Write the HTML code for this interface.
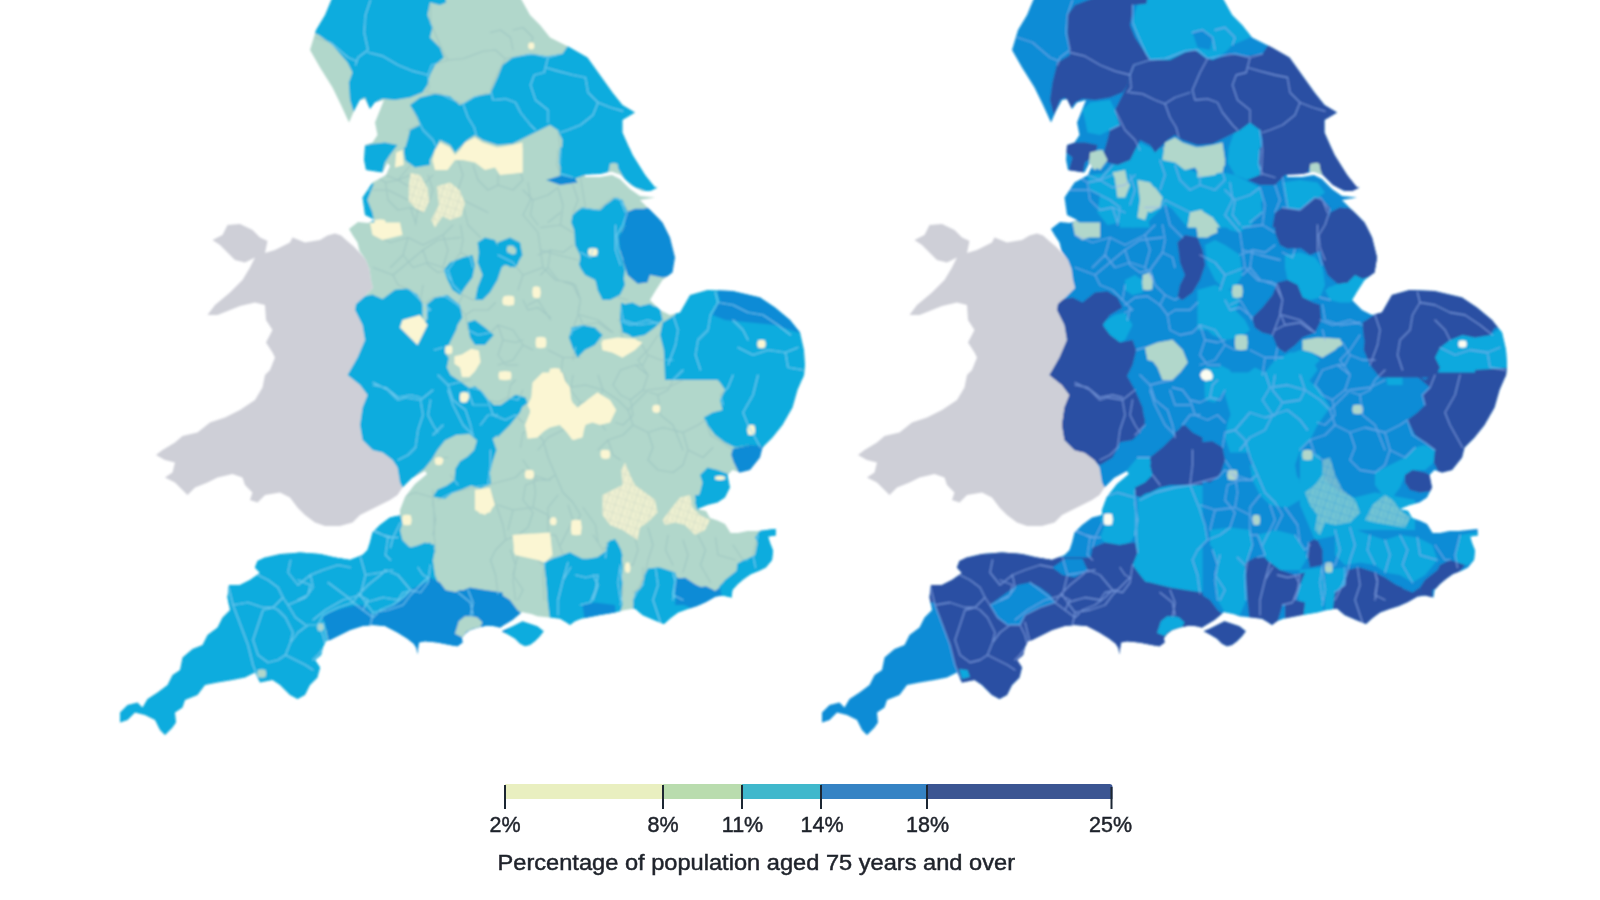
<!DOCTYPE html>
<html lang="en"><head><meta charset="utf-8"><title>Percentage of population aged 75 years and over</title>
<style>
html,body{margin:0;padding:0;background:#fff;}
body{width:1600px;height:900px;overflow:hidden;position:relative;font-family:"Liberation Sans",Arial,sans-serif;}
svg{position:absolute;left:0;top:0;display:block}
</style></head><body>
<svg width="1600" height="900" viewBox="0 0 1600 900">
<defs>
<filter id="soft" x="-2%" y="-2%" width="104%" height="104%"><feGaussianBlur stdDeviation="1.1"/></filter>
<filter id="soft2" x="-2%" y="-10%" width="104%" height="120%"><feGaussianBlur stdDeviation="0.6"/></filter>

<clipPath id="eng"><polygon points="332.5,-3 325,15 316,30 310,50 320,67.5 332.5,87.5 341,105 349,122.5 354,111 360,100 365,99 370,109 375,102.5 384,100 380,110 375,122.5 377.5,135 372.5,142.5 365,145 364,160 366,170 382.5,172.5 387.5,163 390,166 386,175 372.5,182.5 362.5,197.5 365,215 375,220 368,223 358,222 349,229 352.5,235 357.5,242.5 359.5,251 366,260 369.5,269 371,280 373,288 364,297 356,304 355,310 362.5,325 365,340 357.5,357.5 347.5,375 360,385 367.5,395 362.5,407.5 360,425 362.5,440 372.5,450 382.5,452.5 392.5,460 397.5,467.5 400,482.5 402.5,487.5 412,478 425,471 427,474 415,484 405,497 400,510 400,515 390,517.5 380,525 372.5,532.5 370,542.5 367.5,550 362.5,555 350,560 335,557.5 320,554 300,552.5 280,554 265,557.5 257.5,561 255,567.5 260,573 250,580 240,585 229,585 227.5,597.5 230,610 222.5,617.5 217.5,627.5 207.5,635 202.5,645 192.5,649 182.5,657.5 180,670 172.5,675 167.5,685 157.5,692.5 147.5,699 142.5,707.5 137.5,702.5 127.5,705 120,712.5 120,722.5 127.5,720 135,712.5 145,715 155,720 160,730 165,735 172.5,727.5 176,722.5 175,712.5 182.5,707.5 185,700 197.5,695 205,685 217.5,682.5 232.5,680 245,677.5 255,672.5 260,682.5 272.5,680 280,685 290,695 297.5,699 305,695 310,685 317.5,677.5 320,667.5 315,660 321,655 323,647 326,641 330,640 340,635 350,630 362.5,626 372.5,625 385,626 397.5,632.5 407.5,638.75 413.75,643.75 416.5,648 417.5,654 418.75,642.5 425,641.25 437.5,642.5 450,645 457.5,646.25 462.5,642.5 461.9,638 465,633.75 470,630 477.5,627.5 487.5,625.6 495,626.25 500,627.5 506.25,623.75 512.5,620 520,613.75 521.9,611.9 525,612.75 531.25,614 537.5,616.25 550,617.5 560,618.75 566.25,622.5 570,625 575,621.25 581.25,618.75 587.5,617.5 600,615 615,612.5 625,610 635,608.5 642.5,615 654,620 664,624 670.6,618 678,612.5 687.5,609 697,606 706,602 715.6,596.6 723,595.6 731.5,597.5 732.5,590 738,584 744,579 751,574 759,571 766,567.5 772,560 773,550.6 770,543 768,536.5 775.6,535.6 775.6,529 766,530 757,531 747.5,531 738,533 730.6,533 725,524 717.5,520.6 710,518 706,511 697.5,509 707.5,505 717.5,502.5 725,497.5 730,487.5 727.5,475 732.5,470 740,472.5 750,470 760,457.5 762.5,447.5 772.5,437.5 782.5,425 792.5,407.5 797.5,390 804,375 805,365 804,350 800,332.5 790,320 775,307.5 760,297.5 732.5,291 707.5,290 690,295 680,312.5 670,315 660,310 650,300 656,290 662.5,280 672.5,272.5 675,257.5 670,237.5 662.5,222.5 650,210 640,200 655,197.5 640,196 630,189 620,179 612,175 600,177 585,177 585,174.5 600,174 612,171.5 621,175 631,185 642,191 650,191 657.5,187.5 655,187.5 645,175 632.5,155 622.5,132.5 622.5,120 635,112.5 622.5,105 612.5,92.5 600,75 587.5,57.5 570,47.5 550,37.5 540,25 530,15 520,-3"/><polygon points="501.9,631.25 507.5,628.75 515,625 522.5,621.25 530,623.75 537.5,626.25 543.75,631.25 540,636.25 535,641.25 530,645 525,646.25 520,643.75 515,638.75 508.75,635"/></clipPath>
<g id="wales"><polygon points="341,235.5 335,233.5 327.5,235.5 320,240 305,242.5 292.5,237.5 290,242.5 275,250 265,253 267.5,241 260,237.5 252.5,230 240,224 227.5,225 222.5,235 212.5,240 220,245 227.5,252.5 235,260 245,262.5 255,257.5 250,267.5 242.5,280 230,292.5 215,305 207.5,315 217.5,315 230,310 240,306 255,302.5 265,305 266,320 272.5,330 266,342.5 272.5,352.5 275,357.5 270,370 265,375 262.5,387.5 255,400 240,410 225,417.5 210,422.5 197.5,432.5 182.5,436 175,442.5 162.5,450 156,455 165,460 175,462.5 172.5,472.5 165,477.5 175,482.5 182.5,490 187.5,495 195,487.5 207.5,482.5 217.5,477.5 232.5,474 242.5,477.5 245,485 252.5,492.5 250,500 257.5,502.5 265,495 280,492.5 290,497.5 297.5,507.5 305,515 315,522.5 325,526 340,526 352.5,522.5 360,515 375,507.5 390,500 397.5,495 402.5,487.5 400,482.5 397.5,467.5 392.5,460 382.5,452.5 372.5,450 362.5,440 360,425 362.5,407.5 367.5,395 360,385 347.5,375 357.5,357.5 365,340 362.5,325 355,310 356,304 364,297 373,288 371,280 369.5,269 366,260 359.5,252.5 353.75,246.5 347.5,241.25" fill="#cecfd7"/></g>
<pattern id="mot" width="9" height="8" patternUnits="userSpaceOnUse" patternTransform="rotate(18)"><path d="M0 2H9M3 0V8M7 4L9 8" stroke="#a5bdb8" stroke-opacity="0.35" stroke-width="1.2" fill="none"/></pattern>
<pattern id="motr" width="9" height="8" patternUnits="userSpaceOnUse" patternTransform="rotate(18)"><rect width="9" height="8" fill="#b1d7cb" fill-opacity="0.62"/><path d="M0 2H9M3 0V8M7 4L9 8" stroke="#3aa0dd" stroke-opacity="0.55" stroke-width="1" fill="none"/></pattern>
<clipPath id="lb"><polygon points="332.5,-5 445,-5 446.2,2.5 440,5 430,2.5 427.5,15 432.5,27.5 430,37.5 440,47.5 443.8,57.5 435,65 430,75 427.5,85 422.5,92.5 410,97.5 395,100 382.5,98.8 375,102.5 370,110 365,97.5 360,100 353.8,112.5 350,100 348.8,82.5 352.5,72.5 347.5,62.5 332.5,45 318.8,35 307.5,30 307.5,15" fill="#000"/>
<polygon points="410,105 420,97.5 435,93.8 450,96.2 460,105 465,102.5 475,96.2 490,93.8 497.5,77.5 502.5,65 512.5,57.5 530,53.8 547.5,56.2 562.5,53.8 570,42.5 600,62.5 650,105 650,120 630,130 662.5,195 642.5,190 630,180 622.5,172.5 617.5,165 612.5,165 607.5,172.5 585,175 575,178.8 560,176.2 561.2,160 562.5,140 557.5,130 550,125 540,130 525,137.5 512.5,143.8 497.5,145 482.5,140 475,135 467.5,140 460,147.5 455,152.5 450,145 440,140 435,150 430,160 417.5,165 407.5,162.5 403.8,152.5 407.5,140 410,130 420,125 417.5,117.5" fill="#000"/>
<polygon points="357.5,147.5 372.5,143.8 385,142.5 397.5,145 390,155 385,162.5 382.5,172.5 366.2,175 357.5,170" fill="#000"/>
<polygon points="368.8,182.5 356.2,200 361.2,217.5 375,225 372.5,212.5 367.5,200 373.8,183.8" fill="#000"/>
<polygon points="575,212.5 582.5,207.5 600,210 615,197.5 622.5,200 627.5,212.5 632.5,225 572.5,225" fill="#000"/>
<polygon points="560,147.5 640,147.5 670,190 647.5,191.2 635,187.5 625,180 617.5,167.5 612.5,163.8 607.5,170 602.5,175 585,175 575,177.5 562.5,172.5 558.8,162.5" fill="#000"/>
<polygon points="572.5,215 580,208.8 590,215 597.5,213.8 605,205 617.5,197.5 625,207.5 625,225 617.5,237.5 620,250 610,255 600,250 587.5,248.8 580,245 575,232.5 571.2,222.5" fill="#000"/>
<polygon points="580,260 592.5,257.5 605,255 615,260 622.5,270 625,285 620,295 610,300 602.5,300 597.5,290 595,277.5 585,272.5 578.8,265" fill="#000"/>
<polygon points="497.5,242.5 510,237.5 520,242.5 522.5,255 515,267.5 505,265 497.5,270" fill="#000"/>
<polygon points="621.2,305 632.5,302.5 640,306.2 650,303.8 660,310 662.5,320 652.5,327.5 642.5,335 632.5,336.2 622.5,332.5 620,320" fill="#000"/>
<polygon points="571.2,330 582.5,325 595,328.8 602.5,335 592.5,345 582.5,350 577.5,357.5 572.5,347.5 568.8,337.5" fill="#000"/>
<polygon points="662.5,322.5 675,315 675,300 690,285 812.5,285 812.5,380 665,380 663.8,350 660,335" fill="#000"/>
<polygon points="403.8,147.5 430,147.5 430,165 415,167.5 405,160" fill="#000"/>
<polygon points="318.8,309.9 360.1,297.2 372.4,294.4 382.6,299.1 394.9,289.7 407.5,288.4 417.4,294.4 422.5,303.8 426.2,305.1 435.1,297.6 447.4,294.9 460,305.1 462.4,317.4 457.6,324.9 456.2,330 450.6,341.2 445,352.5 448.8,358.1 446.9,367.5 450.6,375 456.2,378.8 461.9,382.5 469.4,388.1 475,386.2 482.5,391.9 488.1,399.4 493.8,405 501.2,405 508.8,399.4 516.2,394.7 525.6,397.5 527.5,403.1 520,408.8 512.5,416.2 505,423.8 501.2,431.2 495.6,436.9 492.8,438.8 496.6,450 492.8,461.2 490,472.5 490.9,483.8 480.6,488.4 471.2,485.6 461.9,489.4 452.5,493.1 445,498.8 433.8,496.9 433.8,495 437.5,489.4 446.9,485.6 454.4,480 455.3,468.8 460,461.2 467.5,456.6 474.1,450 476.9,440.6 469.4,434.1 456.2,435 445,440.6 437.5,450 431.9,459.4 424.4,468.8 415,476.2 405.6,487.5 396.2,498.8 321.2,498.8" fill="#000"/>
<polygon points="443.8,270 450,262.5 462.5,257.5 472.5,255 475,265 472.5,277.5 465,287.5 460,295 452.5,290 447.5,280" fill="#000"/>
<polygon points="477.5,242.5 485,237.5 495,240 500,250 502.5,265 497.5,280 490,292.5 482.5,300 475,300 477.5,287.5 482.5,275 477.5,262.5 478.8,252.5" fill="#000"/>
<polygon points="502.5,245 510,240 520,242.5 521.2,252.5 517.5,265 510,267.5 505,257.5" fill="#000"/>
<polygon points="467.5,322.5 475,320 485,327.5 493.8,335 485,345 475,345 470,337.5" fill="#000"/>
<polygon points="573.8,222.5 620,222.5 622.5,240 620,252.5 625,270 622.5,290 615,297.5 605,300 600,292.5 595,280 585,275 580,267.5 580,255 575,245" fill="#000"/>
<polygon points="621.2,302.5 632.5,307.5 647.5,305 660,307.5 662.5,320 655,327.5 645,335 632.5,337.5 622.5,330 620,317.5" fill="#000"/>
<polygon points="571.2,327.5 582.5,325 595,327.5 602.5,335 595,345 585,350 577.5,357.5 572.5,347.5" fill="#000"/>
<polygon points="710,372.5 825,372.5 825,450 762.5,447.5 750,445 735,447.5 725,442.5 715,435 707.5,425 703.8,417.5 712.5,412.5 722.5,410 720,400 725,390 720,382.5" fill="#000"/>
<polygon points="700,475 707.5,467.5 717.5,470 727.5,473.8 740,487.5 725,500 717.5,503.8 707.5,506.2 697.5,510 695,502.5 700,492.5 702.5,482.5" fill="#000"/>
<polygon points="497.5,407.5 515,395 525,400 520,412.5 510,425 497.5,437.5" fill="#000"/>
<polygon points="760,532.5 780,525 790,550 767.5,565 755,572.5 740,580 732.5,587.5 732.5,600 722.5,600 720,587.5 725,580 737.5,570 745,560 755,555 757.5,542.5" fill="#000"/>
<polygon points="545,562.5 557.5,557.5 570,552.5 582.5,558.8 595,558.8 607.5,550 610,540 617.5,542.5 622.5,555 620,570 622.5,582.5 620,602.5 550,602.5 546.2,582.5" fill="#000"/>
<polygon points="635,602.5 640,590 647.5,570 660,567.5 675,572.5 677.5,582.5 675,602.5" fill="#000"/>
<polygon points="400,515 390,517.5 375,515 350,537.5 250,537.5 200,605 405,605 410,590 425,582.5 427.5,572.5 432.5,562.5 435,550 430,542.5 420,545 410,547.5 402.5,540 400,530 402.5,522.5" fill="#000"/>
<polygon points="297.5,545 365,545 367.5,542.5 372.5,530 385,517.5 395,515 402.5,522.5 400,530 395,537.5 400,545 412.5,547.5 425,542.5 435,545 432.5,555 425,565 430,577.5 440,585 425,600 375,625 325,625 330,650 315,680 297.5,680" fill="#000"/>
<polygon points="543.8,562.5 555,557.5 570,552.5 582.5,560 595,557.5 605,557.5 607.5,542.5 615,538.8 621.2,550 622.5,567.5 621.2,590 622.5,605 617.5,620 570,630 550,620 547.5,600 546.2,580" fill="#000"/>
<polygon points="635,592.5 645,585 647.5,570 657.5,567.5 675,572.5 677.5,580 675,595 685,600 695,610 670,630 647.5,622.5 632.5,612.5" fill="#000"/>
<polygon points="495,635 525,617.5 550,630 530,652.5 512.5,647.5" fill="#000"/>
<polygon points="695,495 702.5,495 702.5,507.5 696.2,507.5" fill="#000"/>
<polygon points="200,557.5 432.5,557.5 435,575 440,587.5 430,582.5 422.5,592.5 412.5,590 405,597.5 395,605 382.5,610 375,617.5 367.5,610 357.5,605 345,607.5 330,612.5 322.5,617.5 326.2,625 325,710 100,760 100,685" fill="#000"/>
<polygon points="633.1,599.4 636.9,591.9 644.4,588.1 644.4,575 648.1,568.4 657.5,567.5 668.8,571.2 674.4,573.1 677.2,578.8 674.4,586.2 676.2,597.5 683.8,605 691.2,607.8 691.2,616.2 665,631.2 635,620" fill="#000"/>
<polygon points="717.5,593.8 719.4,586.2 725,580.6 730.6,578.8 736.2,575 747.5,582.5 734.4,605 719.4,601.2" fill="#000"/>
<polygon points="736.2,575 737.2,563.8 743.8,560 751.2,558.1 756.9,554.4 758.8,545 755,537.5 758.8,531.9 766.2,526.2 785,524.4 785,565.6 747.5,582.5" fill="#000"/>
<polygon points="546.2,180 560,175.8 575,178 577.5,182.5 560,185" fill="#000"/>
<polygon points="635,212.5 647.5,207.5 657.5,215 662.5,225 632.5,225" fill="#000"/>
<polygon points="625,212.5 635,208.8 650,208.8 670,220 680,237.5 682.5,257.5 677.5,275 662.5,277.5 650,275 647.5,282.5 637.5,283.8 627.5,275 622.5,260 620,250 618.8,237.5 625,225" fill="#000"/>
<polygon points="717.5,292.5 720,285 812.5,285 812.5,340 800,333 790,330 775,325 750,322.5 725,320 712.5,315 720,300" fill="#000"/>
<polygon points="732.5,448.8 750,445 762.5,446.2 775,450 765,475 740,475 733.8,462.5 731.2,455" fill="#000"/>
<polygon points="677.5,582.5 685,577.5 700,587.5 712.5,592.5 720,587.5 722.5,600 715,605 675,605" fill="#000"/>
<polygon points="405,605 410,590 425,582.5 435,582.5 445,590 457.5,592.5 470,587.5 485,590 502.5,592.5 502.5,605" fill="#000"/>
<polygon points="325,622.5 337.5,612.5 350,607.5 362.5,605 372.5,615 382.5,610 395,605 405,597.5 412.5,590 422.5,592.5 430,577.5 440,582.5 447.5,592.5 460,592.5 472.5,590 485,595 500,593.8 510,600 517.5,610 525,616.2 512.5,625 502.5,635 475,630 462.5,650 420,662.5 375,640 330,650" fill="#000"/>
<polygon points="582.5,605 595,602.5 615,605 616.2,620 585,622.5" fill="#000"/>
<polygon points="677.5,577.5 690,582.5 702.5,587.5 702.5,610 692.5,612.5 685,600 675,595" fill="#000"/>
<polygon points="326.2,625 322.5,617.5 330,612.5 345,607.5 357.5,605 367.5,610 375,617.5 382.5,610 395,605 405,597.5 412.5,590 422.5,592.5 430,582.5 440,587.5 450,595 460,590 472.5,591.2 485,595 502.5,593.8 502.5,635 475,660 350,660 330,645" fill="#000"/>
<polygon points="677.2,578.8 683.8,577.8 691.2,583.4 698.8,587.2 706.2,586.2 713.8,590 717.5,593.8 719.4,601.2 691.2,616.2 691.2,607.8 683.8,605 676.2,597.5 674.4,586.2" fill="#000"/></clipPath>
</defs>
<rect width="1600" height="900" fill="#fff"/>
<g filter="url(#soft)">
<use href="#wales"/>
<g clip-path="url(#eng)">
<rect x="100" y="-5" width="720" height="760" fill="#b1d7cb"/>
<path d="M370.5,0 L365.5,15 L364.2,32.5 L368,50 L358,57.5 L355.5,65 M368,52.5 L383,56.2 L398,65 L413,71.2 L428,75 L431.8,65 L448,60 M315.5,37.5 L330.5,42.5 L348,57.5 L356.8,61.2 M428,75 L429.2,87.5 L425.5,92.5 M430.5,5 L430.5,22.5 L436.8,37.5 L444.2,53.8 L448,60 M448,60 L463,58.8 L483,51.2 L495.5,50 L505.5,58.8 M505.5,58.8 L498,72.5 L490.5,90 L493,100 L505.5,98.8 L515.5,102.5 L520.5,112.5 L530.5,125 L535.5,130 M428,92.5 L440.5,93.8 L453,100 L463,103.8 L473,97.5 L488,92.5 M463,103.8 L468,117.5 L474.2,127.5 L476.8,137.5 M505.5,58.8 L518,56.2 L533,53.8 L548,57.5 L560.5,53.8 M548,57.5 L544.2,72.5 L534.2,75 L530.5,85 L535.5,100 L548,110 L548,122.5 M545.5,67.5 L558,71.2 L573,75 L585.5,77.5 L588,92.5 L598,102.5 L593,115 L580.5,125 L568,130 L560.5,132.5 M598,102.5 L610.5,107.5 L623,111.2 M413,110 L418,120 L423,130 L433,140 L438,150 M408,130 L418,125 M558,130 L560.5,150 L559.2,175 M385.5,175 L398,180 L410.5,175 M428,175 L433,190 L428,205 M458,160 L463,175 L458,190 M473,165 L478,180 L488,190 L498,185 L498,175 M498,185 L513,190 L523,180 L520.5,172.5 M523,190 L533,200 L548,195 L558,187.5 M533,200 L530.5,215 L538,225 M558,187.5 L563,205 L560.5,225 M573,185 L578,200 L573,212.5 M580.5,207.5 L598,210 L613,197.5 L620.5,200 L625.5,212.5 M463,200 L478,207.5 L488,212.5 M443,207.5 L458,207.5 L463,200 M408,200 L418,207.5 L415.5,225 M388,190 L398,195 L408,200 M368,190 L385.5,190 M490.5,32.5 L500.5,30 L510.5,37.5 L513,50 M513,30 L523,27.5 L533,37.5 L530.5,45 M460.5,225 L463,240 L460.5,252.5 L470.5,257.5 L473,267.5 M373,267.5 L393,275 L408,262.5 L423,250 L438,240 L460.5,237.5 M393,275 L398,285 L410.5,290 L420.5,300 M423,250 L428,265 L438,272.5 L448,270 L460.5,252.5 M448,270 L453,285 L463,295 L473,300 L476.8,297.5 M463,295 L458,305 L465.5,315 L473,310 L488,310 L495.5,302.5 M423,305 L433,297.5 L445.5,296.2 L458,305 M428,307.5 L425.5,320 M465.5,315 L468,330 L478,335 L490.5,332.5 L498,325 M434.2,350 L443,347.5 M438,375 L448,385 L458,382.5 L470.5,380 M448,385 L453,400 L465.5,410 L470.5,425 L473,437.5 M470.5,387.5 L480.5,390 L488,400 L498,402.5 L508,397.5 L518,400 L523,390 M488,400 L493,415 L505.5,420 L515.5,415 L523,422.5 M508,397.5 L510.5,385 L515.5,380 M498,325 L503,340 L515.5,342.5 L523,340 M503,340 L498,355 L505.5,365 L518,365 M523,300 L528,310 L538,307.5 L550.5,317.5 M538,255 L550.5,250 L563,252.5 L573,245 M550.5,250 L548,267.5 L558,280 L573,285 M540.5,275 L548,267.5 M563,372.5 L568,387.5 L560.5,400 L570.5,415 L563,430 L548,437.5 L538,450 M568,387.5 L585.5,385 L603,390 M570.5,415 L585.5,410 L598,420 L605.5,430 M618,320 L630.5,325 L648,320 L660.5,325 M620.5,330 L623,340 M640.5,342.5 L648,355 L643,365 L635.5,365 M648,355 L660.5,360 L673,360 M620.5,370 L613,385 L620.5,395 L630.5,400 L643,390 L648,375 L635.5,365 L620.5,370 M630.5,400 L633,415 L623,425 L615.5,422.5 M643,390 L658,395 L668,390 L673,380 L683,370 M658,395 L660.5,415 L673,425 L683,450 M575.5,347.5 L573,360 M593,248.8 L590.5,257.5 L580.5,252.5 M615.5,225 L615.5,250 L620.5,265 M373,385 L385.5,387.5 L398,397.5 L410.5,395 L420.5,397.5 M430.5,400 L428,415 L433,425 L438,432.5 M573,285 L580.5,300 L578,315 L570.5,335 M580.5,315 L598,320 L613,332.5 M558,150 L556.8,165 L560.5,173.8 L573,177.5 M580.5,177.5 L583,192.5 L585.5,207.5 M618,197.5 L628,210 L623,225 L616.8,235 L618,247.5 L623,260 M715.5,292.5 L718,302.5 L710.5,315 L708,330 L698,340 L695.5,355 L700.5,370 M718,302.5 L733,305 L748,312.5 L763,315 L778,325 L790.5,335 M733,320 L743,330 L748,340 M673,315 L678,330 L675.5,345 L668,365 M575.5,285 L580.5,300 L578,312.5 L583,325 L573,330 M583,325 L598,322.5 L608,330 L613,332.5 M540.5,227.5 L560.5,225 L573,232.5 M538,232.5 L540.5,250 L558,255 L578,260 M540.5,250 L543,267.5 L555.5,280 L570.5,282.5 L575.5,285 M528,182.5 L530.5,200 L523,215 L538,232.5 M498,255 L513,262.5 L523,275 L518,290 M523,275 L543,267.5 M548,222.5 L560.5,212.5 M528,305 L538,300 L550.5,320 M620.5,305 L623,320 L638,325 L658,322.5 M618,297.5 L628,300 M738,347.5 L753,355 L768,350 L785.5,352.5 L798,347.5 M785.5,352.5 L788,367.5 L803,370 M658,335 L648,350 L638,360 L648,375 M498,325 L513,330 L523,345 L513,360 L498,365 M523,345 L533,350 M548,350 L563,357.5 L580.5,357.5 M563,357.5 L560.5,375 M598,375 L603,390 L618,400 L628,410 M573,375 L570.5,390 L580.5,402.5 L573,415 L563,417.5 L548,412.5 L533,430 M580.5,402.5 L598,400 L603,390 M628,410 L638,400 L648,390 L668,387.5 L683,380 M628,410 L633,425 L623,435 L608,440 L598,450 M633,425 L648,432.5 L663,427.5 L683,432.5 L688,450 L683,465 L673,472.5 M683,432.5 L698,425 L705.5,420 M688,450 L703,457.5 L713,447.5 M648,432.5 L653,447.5 L648,460 L658,470 L673,472.5 M608,440 L613,455 L620.5,460 M548,457.5 L543,440 L533,430 L523,432.5 L520.5,447.5 M548,457.5 L555.5,475 L563,492.5 L573,502.5 M523,460 L533,475 L548,480 L555.5,475 M498,505 L513,510 L533,507.5 L548,515 L553,525 M533,507.5 L535.5,492.5 L533,475 M508,530 L513,510 M548,535 L555.5,535 L563,555 L555.5,557.5 M593,535 L603,550 L608,545 M573,530 L580.5,515 L573,502.5 M633,530 L638,550 L633,565 L623,565 M648,527.5 L653,545 L648,560 L645.5,572.5 M668,535 L665.5,550 L673,565 M683,540 L688,555 L683,572.5 M698,535 L705.5,550 L700.5,565 L710.5,582.5 M715.5,537.5 L718,555 L735.5,560 M733,545 L743,560 L748,560 M758,535 L753,555 L755.5,567.5 M758,375 L753,395 L743,412.5 L748,425 L760.5,447.5 M733,375 L728,387.5 L720.5,395 L723,405 M705.5,420 L710.5,435 L723,442.5 L733,450 M620.5,565 L618,582.5 L620.5,600 M593,575 L598,585 L593,600 M568,562.5 L563,580 L558,600 M518,555 L513,575 L523,590 L518,600 M535.5,557.5 L543,565 M673,572.5 L675.5,582.5 L673,600 M645.5,572.5 L638,590 L633,600 M433,497.5 L434.2,515 L434.2,535 L435.5,552.5 M438,500 L453,492.5 L473,487.5 L488,485 L515.5,477.5 M488,485 L498,510 L503,525 L505.5,540 L495.5,550 L490.5,560 L495.5,575 L498,593.8 M490.5,450 L490.5,465 L488,485 M450.5,475 L458,485 M400.5,497.5 L415.5,492.5 L433,497.5 M393,537.5 L390.5,547.5 M370.5,530 L383,535 L393,537.5 L400.5,522.5 M360.5,557.5 L365.5,575 L360.5,595 L365.5,602.5 L373,612.5 L370.5,625 M365.5,575 L380.5,572.5 L393,570 M365.5,602.5 L383,597.5 L398,600 L403,592.5 L415.5,590 L428,577.5 M373,612.5 L388,610 L403,605 L410.5,595 L415.5,590 M418,567.5 L423,575 L428,577.5 M298,580 L310.5,585 L308,595 L298,600 M313,620 L325.5,610 L343,600 L360.5,595 M323,622.5 L328,642.5 M458,592.5 L470.5,602.5 L473,615 M505.5,540 L518,535 L528,527.5 M510.5,550 L515.5,565 L513,580 L515.5,600 M545.5,560 L543,575 L544.2,600 M548,530 L550.5,545 L545.5,560 M570.5,567.5 L563,580 L558,600 L558,615 M575.5,575 L585.5,577.5 L598,575 M598,575 L595.5,590 L590.5,602.5 L580.5,605 M620.5,567.5 L623,590 L620.5,605 M643,567.5 L643,585 L633,592.5 M673,572.5 L675.5,580 L673,595 L683,600 M655.5,567.5 L658,585 L653,600 L660.5,622.5 M528,527.5 L533,512.5 L523,500 L525.5,485 L538,480 M558,495 L548,507.5 L548,530 M568,505 L573,520 L560.5,545 M598,542.5 L595.5,525 L583,507.5 M605.5,557.5 L606.8,542.5 M515.5,477.5 L523,470 L538,480 L550.5,480 M228,585 L233,605 L240.5,625 L248,645 L253,665 L258,677.5 M233,605 L248,602.5 L263,607.5 L273,607.5 L283,597.5 L278,587.5 L268,580 L258,575 M273,607.5 L263,610 L258,625 L253,640 L258,655 L268,662.5 L278,660 L285.5,655 L290.5,642.5 L293,632.5 L285.5,617.5 L278,610 L273,607.5 M285.5,655 L295.5,660 L305.5,665 L313,670 M290.5,642.5 L298,632.5 L308,625 L318,625 L323,635 L325.5,645 L318,655 L313,660 M283,597.5 L288,605 L295.5,617.5 L305.5,625 M310.5,575 L313,587.5 L305.5,597.5 L288,605 M318,625 L323,615 L338,607.5 L353,602.5 L363,610 L373,617.5 M353,602.5 L358,595 L368,585 L380.5,575 L385.5,570 M373,617.5 L380.5,610 L393,605 L403,597.5 L410.5,590 L420.5,592.5 L428,582.5 L430.5,565 M363,610 L368,600 L358,595 M468,590 L473,602.5 L470.5,616.2 M328,582.5 L338,590 L348,597.5 L353,602.5 M385.5,570 L398,575 L410.5,590 M290.5,560 L288,572.5 L298,585 L310.5,575 L323,570 L338,565 L350.5,567.5 M373,382.5 L388,390 L398,400 L405.5,397.5 L420.5,400 L433,390 M420.5,400 L423,415 L418,430 L415.5,447.5 M433,435 L443,425 M398,460 L408,455 L415.5,447.5 M435.5,457.5 L448,457.5 M433,490 L433,505 L435.5,520 L433,535 M373,530 L388,537.5 L398,537.5 M388,537.5 L385.5,555 L390.5,560 M448,390 L453,405 L463,425 L473,435 M468,390 L473,405 L488,405 M480.5,425 L488,415 L498,415 M373,175 L385.5,182.5 L398,180 L410.5,165 M385.5,182.5 L388,200 L398,210 L410.5,207.5 L423,212.5 M398,180 L410.5,187.5 L423,185 L433,175 M410.5,207.5 L415.5,222.5 M373,235 L390.5,242.5 L408,237.5 L423,245 L443,235 L453,225 M408,237.5 L403,255 L413,267.5 L428,262.5 L443,267.5 M390.5,267.5 L403,255 M443,235 L448,250 L443,267.5 L450.5,280 M463,205 L468,225 L480.5,237.5 M423,285 L420.5,300 L430.5,310 L423,312.5" fill="none" stroke="rgba(120,160,175,0.28)" stroke-width="1.1" stroke-linejoin="round" stroke-linecap="round"/>
<polygon points="332.5,-5 445,-5 446.2,2.5 440,5 430,2.5 427.5,15 432.5,27.5 430,37.5 440,47.5 443.8,57.5 435,65 430,75 427.5,85 422.5,92.5 410,97.5 395,100 382.5,98.8 375,102.5 370,110 365,97.5 360,100 353.8,112.5 350,100 348.8,82.5 352.5,72.5 347.5,62.5 332.5,45 318.8,35 307.5,30 307.5,15" fill="#0cacde"/>
<polygon points="410,105 420,97.5 435,93.8 450,96.2 460,105 465,102.5 475,96.2 490,93.8 497.5,77.5 502.5,65 512.5,57.5 530,53.8 547.5,56.2 562.5,53.8 570,42.5 600,62.5 650,105 650,120 630,130 662.5,195 642.5,190 630,180 622.5,172.5 617.5,165 612.5,165 607.5,172.5 585,175 575,178.8 560,176.2 561.2,160 562.5,140 557.5,130 550,125 540,130 525,137.5 512.5,143.8 497.5,145 482.5,140 475,135 467.5,140 460,147.5 455,152.5 450,145 440,140 435,150 430,160 417.5,165 407.5,162.5 403.8,152.5 407.5,140 410,130 420,125 417.5,117.5" fill="#0cacde"/>
<polygon points="357.5,147.5 372.5,143.8 385,142.5 397.5,145 390,155 385,162.5 382.5,172.5 366.2,175 357.5,170" fill="#0cacde"/>
<polygon points="368.8,182.5 356.2,200 361.2,217.5 375,225 372.5,212.5 367.5,200 373.8,183.8" fill="#0cacde"/>
<polygon points="575,212.5 582.5,207.5 600,210 615,197.5 622.5,200 627.5,212.5 632.5,225 572.5,225" fill="#0cacde"/>
<polygon points="560,147.5 640,147.5 670,190 647.5,191.2 635,187.5 625,180 617.5,167.5 612.5,163.8 607.5,170 602.5,175 585,175 575,177.5 562.5,172.5 558.8,162.5" fill="#0cacde"/>
<polygon points="572.5,215 580,208.8 590,215 597.5,213.8 605,205 617.5,197.5 625,207.5 625,225 617.5,237.5 620,250 610,255 600,250 587.5,248.8 580,245 575,232.5 571.2,222.5" fill="#0cacde"/>
<polygon points="580,260 592.5,257.5 605,255 615,260 622.5,270 625,285 620,295 610,300 602.5,300 597.5,290 595,277.5 585,272.5 578.8,265" fill="#0cacde"/>
<polygon points="497.5,242.5 510,237.5 520,242.5 522.5,255 515,267.5 505,265 497.5,270" fill="#0cacde"/>
<polygon points="621.2,305 632.5,302.5 640,306.2 650,303.8 660,310 662.5,320 652.5,327.5 642.5,335 632.5,336.2 622.5,332.5 620,320" fill="#0cacde"/>
<polygon points="571.2,330 582.5,325 595,328.8 602.5,335 592.5,345 582.5,350 577.5,357.5 572.5,347.5 568.8,337.5" fill="#0cacde"/>
<polygon points="662.5,322.5 675,315 675,300 690,285 812.5,285 812.5,380 665,380 663.8,350 660,335" fill="#0cacde"/>
<polygon points="403.8,147.5 430,147.5 430,165 415,167.5 405,160" fill="#0cacde"/>
<polygon points="318.8,309.9 360.1,297.2 372.4,294.4 382.6,299.1 394.9,289.7 407.5,288.4 417.4,294.4 422.5,303.8 426.2,305.1 435.1,297.6 447.4,294.9 460,305.1 462.4,317.4 457.6,324.9 456.2,330 450.6,341.2 445,352.5 448.8,358.1 446.9,367.5 450.6,375 456.2,378.8 461.9,382.5 469.4,388.1 475,386.2 482.5,391.9 488.1,399.4 493.8,405 501.2,405 508.8,399.4 516.2,394.7 525.6,397.5 527.5,403.1 520,408.8 512.5,416.2 505,423.8 501.2,431.2 495.6,436.9 492.8,438.8 496.6,450 492.8,461.2 490,472.5 490.9,483.8 480.6,488.4 471.2,485.6 461.9,489.4 452.5,493.1 445,498.8 433.8,496.9 433.8,495 437.5,489.4 446.9,485.6 454.4,480 455.3,468.8 460,461.2 467.5,456.6 474.1,450 476.9,440.6 469.4,434.1 456.2,435 445,440.6 437.5,450 431.9,459.4 424.4,468.8 415,476.2 405.6,487.5 396.2,498.8 321.2,498.8" fill="#0cacde"/>
<polygon points="443.8,270 450,262.5 462.5,257.5 472.5,255 475,265 472.5,277.5 465,287.5 460,295 452.5,290 447.5,280" fill="#0cacde"/>
<polygon points="477.5,242.5 485,237.5 495,240 500,250 502.5,265 497.5,280 490,292.5 482.5,300 475,300 477.5,287.5 482.5,275 477.5,262.5 478.8,252.5" fill="#0cacde"/>
<polygon points="502.5,245 510,240 520,242.5 521.2,252.5 517.5,265 510,267.5 505,257.5" fill="#0cacde"/>
<polygon points="467.5,322.5 475,320 485,327.5 493.8,335 485,345 475,345 470,337.5" fill="#0cacde"/>
<polygon points="573.8,222.5 620,222.5 622.5,240 620,252.5 625,270 622.5,290 615,297.5 605,300 600,292.5 595,280 585,275 580,267.5 580,255 575,245" fill="#0cacde"/>
<polygon points="621.2,302.5 632.5,307.5 647.5,305 660,307.5 662.5,320 655,327.5 645,335 632.5,337.5 622.5,330 620,317.5" fill="#0cacde"/>
<polygon points="571.2,327.5 582.5,325 595,327.5 602.5,335 595,345 585,350 577.5,357.5 572.5,347.5" fill="#0cacde"/>
<polygon points="710,372.5 825,372.5 825,450 762.5,447.5 750,445 735,447.5 725,442.5 715,435 707.5,425 703.8,417.5 712.5,412.5 722.5,410 720,400 725,390 720,382.5" fill="#0cacde"/>
<polygon points="700,475 707.5,467.5 717.5,470 727.5,473.8 740,487.5 725,500 717.5,503.8 707.5,506.2 697.5,510 695,502.5 700,492.5 702.5,482.5" fill="#0cacde"/>
<polygon points="497.5,407.5 515,395 525,400 520,412.5 510,425 497.5,437.5" fill="#0cacde"/>
<polygon points="760,532.5 780,525 790,550 767.5,565 755,572.5 740,580 732.5,587.5 732.5,600 722.5,600 720,587.5 725,580 737.5,570 745,560 755,555 757.5,542.5" fill="#0cacde"/>
<polygon points="545,562.5 557.5,557.5 570,552.5 582.5,558.8 595,558.8 607.5,550 610,540 617.5,542.5 622.5,555 620,570 622.5,582.5 620,602.5 550,602.5 546.2,582.5" fill="#0cacde"/>
<polygon points="635,602.5 640,590 647.5,570 660,567.5 675,572.5 677.5,582.5 675,602.5" fill="#0cacde"/>
<polygon points="400,515 390,517.5 375,515 350,537.5 250,537.5 200,605 405,605 410,590 425,582.5 427.5,572.5 432.5,562.5 435,550 430,542.5 420,545 410,547.5 402.5,540 400,530 402.5,522.5" fill="#0cacde"/>
<polygon points="297.5,545 365,545 367.5,542.5 372.5,530 385,517.5 395,515 402.5,522.5 400,530 395,537.5 400,545 412.5,547.5 425,542.5 435,545 432.5,555 425,565 430,577.5 440,585 425,600 375,625 325,625 330,650 315,680 297.5,680" fill="#0cacde"/>
<polygon points="543.8,562.5 555,557.5 570,552.5 582.5,560 595,557.5 605,557.5 607.5,542.5 615,538.8 621.2,550 622.5,567.5 621.2,590 622.5,605 617.5,620 570,630 550,620 547.5,600 546.2,580" fill="#0cacde"/>
<polygon points="635,592.5 645,585 647.5,570 657.5,567.5 675,572.5 677.5,580 675,595 685,600 695,610 670,630 647.5,622.5 632.5,612.5" fill="#0cacde"/>
<polygon points="495,635 525,617.5 550,630 530,652.5 512.5,647.5" fill="#0cacde"/>
<polygon points="695,495 702.5,495 702.5,507.5 696.2,507.5" fill="#0cacde"/>
<polygon points="200,557.5 432.5,557.5 435,575 440,587.5 430,582.5 422.5,592.5 412.5,590 405,597.5 395,605 382.5,610 375,617.5 367.5,610 357.5,605 345,607.5 330,612.5 322.5,617.5 326.2,625 325,710 100,760 100,685" fill="#0cacde"/>
<polygon points="633.1,599.4 636.9,591.9 644.4,588.1 644.4,575 648.1,568.4 657.5,567.5 668.8,571.2 674.4,573.1 677.2,578.8 674.4,586.2 676.2,597.5 683.8,605 691.2,607.8 691.2,616.2 665,631.2 635,620" fill="#0cacde"/>
<polygon points="717.5,593.8 719.4,586.2 725,580.6 730.6,578.8 736.2,575 747.5,582.5 734.4,605 719.4,601.2" fill="#0cacde"/>
<polygon points="736.2,575 737.2,563.8 743.8,560 751.2,558.1 756.9,554.4 758.8,545 755,537.5 758.8,531.9 766.2,526.2 785,524.4 785,565.6 747.5,582.5" fill="#0cacde"/>
<polygon points="546.2,180 560,175.8 575,178 577.5,182.5 560,185" fill="#0b8bd6"/>
<polygon points="635,212.5 647.5,207.5 657.5,215 662.5,225 632.5,225" fill="#0b8bd6"/>
<polygon points="625,212.5 635,208.8 650,208.8 670,220 680,237.5 682.5,257.5 677.5,275 662.5,277.5 650,275 647.5,282.5 637.5,283.8 627.5,275 622.5,260 620,250 618.8,237.5 625,225" fill="#0b8bd6"/>
<polygon points="717.5,292.5 720,285 812.5,285 812.5,340 800,333 790,330 775,325 750,322.5 725,320 712.5,315 720,300" fill="#0b8bd6"/>
<polygon points="732.5,448.8 750,445 762.5,446.2 775,450 765,475 740,475 733.8,462.5 731.2,455" fill="#0b8bd6"/>
<polygon points="677.5,582.5 685,577.5 700,587.5 712.5,592.5 720,587.5 722.5,600 715,605 675,605" fill="#0b8bd6"/>
<polygon points="405,605 410,590 425,582.5 435,582.5 445,590 457.5,592.5 470,587.5 485,590 502.5,592.5 502.5,605" fill="#0b8bd6"/>
<polygon points="325,622.5 337.5,612.5 350,607.5 362.5,605 372.5,615 382.5,610 395,605 405,597.5 412.5,590 422.5,592.5 430,577.5 440,582.5 447.5,592.5 460,592.5 472.5,590 485,595 500,593.8 510,600 517.5,610 525,616.2 512.5,625 502.5,635 475,630 462.5,650 420,662.5 375,640 330,650" fill="#0b8bd6"/>
<polygon points="582.5,605 595,602.5 615,605 616.2,620 585,622.5" fill="#0b8bd6"/>
<polygon points="677.5,577.5 690,582.5 702.5,587.5 702.5,610 692.5,612.5 685,600 675,595" fill="#0b8bd6"/>
<polygon points="326.2,625 322.5,617.5 330,612.5 345,607.5 357.5,605 367.5,610 375,617.5 382.5,610 395,605 405,597.5 412.5,590 422.5,592.5 430,582.5 440,587.5 450,595 460,590 472.5,591.2 485,595 502.5,593.8 502.5,635 475,660 350,660 330,645" fill="#0b8bd6"/>
<polygon points="677.2,578.8 683.8,577.8 691.2,583.4 698.8,587.2 706.2,586.2 713.8,590 717.5,593.8 719.4,601.2 691.2,616.2 691.2,607.8 683.8,605 676.2,597.5 674.4,586.2" fill="#0b8bd6"/>
<polygon points="610,163.8 613.8,163 617.5,163.8 618.2,168.8 617.5,173.8 613.8,174.5 610,173.8 609.2,168.8" fill="#b1d7cb"/>
<polygon points="507.5,246.2 510.6,245.5 513.8,246.2 514.5,249.4 513.8,252.5 510.6,253.2 507.5,252.5 506.8,249.4" fill="#b1d7cb"/>
<polygon points="422.5,301.9 426.6,303.8 427.4,318.8 422.5,324.4" fill="#b1d7cb"/>
<polygon points="510.5,248 513,247.2 515.5,248 516.2,250.9 515.5,253.8 513,254.5 510.5,253.8 509.8,250.9" fill="#b1d7cb"/>
<polygon points="458.8,621.2 465,616.2 472.5,616.2 477.5,617.5 482.5,622.5 480,626.9 472.5,628.8 466.2,631.9 462.5,637.5 455,633.8" fill="#b1d7cb"/>
<polygon points="258,670 261.8,669.2 265.5,670 266.2,673.5 265.5,677 261.8,677.8 258,677 257.2,673.5" fill="#b1d7cb"/>
<polygon points="318,624 320.5,623.2 323,624 323.8,627.2 323,630.5 320.5,631.2 318,630.5 317.2,627.2" fill="#b1d7cb"/>
<polygon points="528.8,43 531.2,42.2 533.8,43 534.5,45.9 533.8,48.8 531.2,49.5 528.8,48.8 528,45.9" fill="#fbf6d3"/>
<polygon points="435,150 440,142.5 450,147.5 455,155 460,150 465,142.5 475,137.5 482.5,142.5 497.5,147.5 512.5,145 522.5,142.5 522.5,172.5 500,175 495,167.5 485,170 475,162.5 462.5,160 455,160 447.5,170 435,170 432.5,160" fill="#fbf6d3"/>
<polygon points="396.2,152.5 402.5,150 403.8,165 395,167.5" fill="#fbf6d3"/>
<polygon points="375,220 380,219.2 385,220 385.8,223.1 385,226.2 380,227 375,226.2 374.2,223.1" fill="#fbf6d3"/>
<polygon points="588.8,248.8 592.9,248 597,248.8 597.8,252.1 597,255.5 592.9,256.2 588.8,255.5 588,252.1" fill="#fbf6d3"/>
<polygon points="602.5,340 617.5,337.5 635,338.8 640,343.8 630,350 622.5,357.5 612.5,352.5 602.5,350" fill="#fbf6d3"/>
<polygon points="533.8,287.5 536.9,286.8 540,287.5 540.8,292.5 540,297.5 536.9,298.2 533.8,297.5 533,292.5" fill="#fbf6d3"/>
<polygon points="503.8,296.2 508.8,295.5 513.8,296.2 514.5,300.6 513.8,305 508.8,305.8 503.8,305 503,300.6" fill="#fbf6d3"/>
<polygon points="536.2,337.5 540.6,336.8 545,337.5 545.8,342.5 545,347.5 540.6,348.2 536.2,347.5 535.5,342.5" fill="#fbf6d3"/>
<polygon points="550,368.8 555,368 560,368.8 560.8,371.9 560,375 555,375.8 550,375 549.2,371.9" fill="#fbf6d3"/>
<polygon points="497.5,147.5 522.5,147.5 522.5,172.5 510,173.8 497.5,167.5" fill="#fbf6d3"/>
<polygon points="758,340.5 761.5,339.8 765,340.5 765.8,344 765,347.5 761.5,348.2 758,347.5 757.2,344" fill="#fbf6d3"/>
<polygon points="460.9,392.8 464.7,392.2 468.4,392.8 469,396.6 468.4,400.3 464.7,400.9 460.9,400.3 460.4,396.6" fill="#fbf6d3"/>
<polygon points="445.6,345.9 448.8,345.4 451.9,345.9 452.5,349.7 451.9,353.4 448.8,354 445.6,353.4 445,349.7" fill="#fbf6d3"/>
<polygon points="601,450.4 604.4,449.8 607.8,450.4 608.3,453.8 607.8,457.1 604.4,457.7 601,457.1 600.4,453.8" fill="#fbf6d3"/>
<polygon points="526,471 529.4,470.4 532.8,471 533.3,474.4 532.8,477.8 529.4,478.3 526,477.8 525.4,474.4" fill="#fbf6d3"/>
<polygon points="436,457.9 439.4,457.3 442.8,457.9 443.3,460.3 442.8,462.8 439.4,463.3 436,462.8 435.4,460.3" fill="#fbf6d3"/>
<polygon points="454.4,356.2 461.9,354.4 471.2,348.8 478.8,350.6 480.6,361.9 475,371.2 469.4,376.9 461.9,376.9 460,367.5 454.4,363.8" fill="#fbf6d3"/>
<polygon points="370,222.5 400,222.5 402.5,235 382.5,240 372.5,235" fill="#fbf6d3"/>
<polygon points="402.5,320 420,315 427.5,325 417.5,345 407.5,335 400,327.5" fill="#fbf6d3"/>
<polygon points="503,297.5 508,296.8 513,297.5 513.8,301 513,304.5 508,305.2 503,304.5 502.2,301" fill="#fbf6d3"/>
<polygon points="533,287 536.2,286.2 539.5,287 540.2,292 539.5,297 536.2,297.8 533,297 532.2,292" fill="#fbf6d3"/>
<polygon points="536.8,338 541.2,337.2 545.8,338 546.5,342.5 545.8,347 541.2,347.8 536.8,347 536,342.5" fill="#fbf6d3"/>
<polygon points="499.2,371.8 505,371 510.8,371.8 511.5,375.6 510.8,379.5 505,380.2 499.2,379.5 498.5,375.6" fill="#fbf6d3"/>
<polygon points="653,405.5 656.2,404.8 659.5,405.5 660.2,408.8 659.5,412 656.2,412.8 653,412 652.2,408.8" fill="#fbf6d3"/>
<polygon points="535,385 545,375 555,370 562.5,377.5 570,387.5 571.2,400 567.5,410 575,415 585,412.5 587.5,400 597.5,392.5 607.5,400 615,410 610,422.5 600,425 592.5,422.5 585,425 582.5,437.5 572.5,440 565,430 557.5,422.5 547.5,427.5 537.5,437.5 527.5,438.8 526.2,425 532.5,415 527.5,405 532.5,395" fill="#fbf6d3"/>
<polygon points="601.2,342.5 615,340 632.5,338.8 642.5,342.5 635,350 622.5,357.5 612.5,352.5 602.5,350" fill="#fbf6d3"/>
<polygon points="532.5,382.5 542.5,372.5 562.5,372.5 567.5,390 572.5,402.5 577.5,407.5 587.5,400 597.5,392.5 610,400 616.2,410 610,422.5 600,423.8 587.5,420 582.5,432.5 575,440 567.5,432.5 560,425 550,427.5 537.5,435 527.5,437.5 525,425 530,412.5" fill="#fbf6d3"/>
<polygon points="512.5,535 550,532.5 552.5,555 545,562.5 537.5,560 515,555" fill="#fbf6d3"/>
<polygon points="571.8,520.5 576.2,519.8 580.8,520.5 581.5,527.5 580.8,534.5 576.2,535.2 571.8,534.5 571,527.5" fill="#fbf6d3"/>
<polygon points="550.5,518 553.1,517.2 555.8,518 556.5,521.2 555.8,524.5 553.1,525.2 550.5,524.5 549.8,521.2" fill="#fbf6d3"/>
<polygon points="525.5,470.5 529.4,469.8 533.2,470.5 534,474.4 533.2,478.2 529.4,479 525.5,478.2 524.8,474.4" fill="#fbf6d3"/>
<polygon points="601.8,450.5 605.6,449.8 609.5,450.5 610.2,454.4 609.5,458.2 605.6,459 601.8,458.2 601,454.4" fill="#fbf6d3"/>
<polygon points="654.2,405.5 656.9,404.8 659.5,405.5 660.2,408.8 659.5,412 656.9,412.8 654.2,412 653.5,408.8" fill="#fbf6d3"/>
<polygon points="748,425.5 751.2,424.8 754.5,425.5 755.2,430 754.5,434.5 751.2,435.2 748,434.5 747.2,430" fill="#fbf6d3"/>
<polygon points="715.5,476.5 720,475.8 724.5,476.5 725.2,478 724.5,479.5 720,480.2 715.5,479.5 714.8,478" fill="#fbf6d3"/>
<polygon points="625.5,563 627.5,562.2 629.5,563 630.2,567.5 629.5,572 627.5,572.8 625.5,572 624.8,567.5" fill="#fbf6d3"/>
<polygon points="460.5,393 463.8,392.2 467,393 467.8,397.5 467,402 463.8,402.8 460.5,402 459.8,397.5" fill="#fbf6d3"/>
<polygon points="435.5,458 438.8,457.2 442,458 442.8,461.2 442,464.5 438.8,465.2 435.5,464.5 434.8,461.2" fill="#fbf6d3"/>
<polygon points="403,515.5 406.9,514.8 410.8,515.5 411.5,520 410.8,524.5 406.9,525.2 403,524.5 402.2,520" fill="#fbf6d3"/>
<polygon points="475,490 490,487.5 495,505 485,515 475,510" fill="#fbf6d3"/>
<polygon points="475,492.5 487.5,490 493.8,505 490,512.5 480,513.8 475,507.5" fill="#fbf6d3"/>
<polygon points="513.8,535 530,533.8 550,535 551.2,550 540,560 525,555 513.8,552.5" fill="#fbf6d3"/>
<polygon points="571.8,520.5 576.2,519.8 580.8,520.5 581.5,527.5 580.8,534.5 576.2,535.2 571.8,534.5 571,527.5" fill="#fbf6d3"/>
<polygon points="551.8,518 553.8,517.2 555.8,518 556.5,521.2 555.8,524.5 553.8,525.2 551.8,524.5 551,521.2" fill="#fbf6d3"/>
<polygon points="526.8,471.8 530,471 533.2,471.8 534,475 533.2,478.2 530,479 526.8,478.2 526,475" fill="#fbf6d3"/>
<polygon points="435.5,458 438.8,457.2 442,458 442.8,460.6 442,463.2 438.8,464 435.5,463.2 434.8,460.6" fill="#fbf6d3"/>
<polygon points="403,515.5 406.9,514.8 410.8,515.5 411.5,520 410.8,524.5 406.9,525.2 403,524.5 402.2,520" fill="#fbf6d3"/>
<polygon points="626.5,564.2 628.1,563.5 629.8,564.2 630.5,568.1 629.8,572 628.1,572.8 626.5,572 625.8,568.1" fill="#fbf6d3"/>
<g opacity="0.85"><polygon points="410.6,173.1 420,175 427.5,188.1 429.4,201.2 423.8,212.5 416.2,208.8 408.8,201.2 408.8,186.2" fill="#fbf6d3"/>
<polygon points="436.9,186.2 450,182.5 459.4,190 465,203.1 461.2,216.2 450,220 442.5,216.2 435,227.5 431.2,220 438.8,205" fill="#fbf6d3"/>
<polygon points="602.5,495 612.5,490 622.5,485 621.2,470 625,462.5 630,475 635,485 645,492.5 655,500 657.5,512.5 647.5,522.5 640,527.5 637.5,540 630,535 622.5,530 610,525 602.5,515" fill="#fbf6d3"/>
<polygon points="670,510 680,497.5 690,495 692.5,507.5 700,515 710,520 705,530 695,535 685,525 675,522.5 665,525 662.5,520" fill="#fbf6d3"/></g>
<polygon points="410.6,173.1 420,175 427.5,188.1 429.4,201.2 423.8,212.5 416.2,208.8 408.8,201.2 408.8,186.2" fill="url(#mot)"/>
<polygon points="436.9,186.2 450,182.5 459.4,190 465,203.1 461.2,216.2 450,220 442.5,216.2 435,227.5 431.2,220 438.8,205" fill="url(#mot)"/>
<polygon points="602.5,495 612.5,490 622.5,485 621.2,470 625,462.5 630,475 635,485 645,492.5 655,500 657.5,512.5 647.5,522.5 640,527.5 637.5,540 630,535 622.5,530 610,525 602.5,515" fill="url(#mot)"/>
<polygon points="670,510 680,497.5 690,495 692.5,507.5 700,515 710,520 705,530 695,535 685,525 675,522.5 665,525 662.5,520" fill="url(#mot)"/>
<g clip-path="url(#lb)"><path d="M370.5,0 L365.5,15 L364.2,32.5 L368,50 L358,57.5 L355.5,65 M368,52.5 L383,56.2 L398,65 L413,71.2 L428,75 L431.8,65 L448,60 M315.5,37.5 L330.5,42.5 L348,57.5 L356.8,61.2 M428,75 L429.2,87.5 L425.5,92.5 M430.5,5 L430.5,22.5 L436.8,37.5 L444.2,53.8 L448,60 M448,60 L463,58.8 L483,51.2 L495.5,50 L505.5,58.8 M505.5,58.8 L498,72.5 L490.5,90 L493,100 L505.5,98.8 L515.5,102.5 L520.5,112.5 L530.5,125 L535.5,130 M428,92.5 L440.5,93.8 L453,100 L463,103.8 L473,97.5 L488,92.5 M463,103.8 L468,117.5 L474.2,127.5 L476.8,137.5 M505.5,58.8 L518,56.2 L533,53.8 L548,57.5 L560.5,53.8 M548,57.5 L544.2,72.5 L534.2,75 L530.5,85 L535.5,100 L548,110 L548,122.5 M545.5,67.5 L558,71.2 L573,75 L585.5,77.5 L588,92.5 L598,102.5 L593,115 L580.5,125 L568,130 L560.5,132.5 M598,102.5 L610.5,107.5 L623,111.2 M413,110 L418,120 L423,130 L433,140 L438,150 M408,130 L418,125 M558,130 L560.5,150 L559.2,175 M385.5,175 L398,180 L410.5,175 M428,175 L433,190 L428,205 M458,160 L463,175 L458,190 M473,165 L478,180 L488,190 L498,185 L498,175 M498,185 L513,190 L523,180 L520.5,172.5 M523,190 L533,200 L548,195 L558,187.5 M533,200 L530.5,215 L538,225 M558,187.5 L563,205 L560.5,225 M573,185 L578,200 L573,212.5 M580.5,207.5 L598,210 L613,197.5 L620.5,200 L625.5,212.5 M463,200 L478,207.5 L488,212.5 M443,207.5 L458,207.5 L463,200 M408,200 L418,207.5 L415.5,225 M388,190 L398,195 L408,200 M368,190 L385.5,190 M490.5,32.5 L500.5,30 L510.5,37.5 L513,50 M513,30 L523,27.5 L533,37.5 L530.5,45 M460.5,225 L463,240 L460.5,252.5 L470.5,257.5 L473,267.5 M373,267.5 L393,275 L408,262.5 L423,250 L438,240 L460.5,237.5 M393,275 L398,285 L410.5,290 L420.5,300 M423,250 L428,265 L438,272.5 L448,270 L460.5,252.5 M448,270 L453,285 L463,295 L473,300 L476.8,297.5 M463,295 L458,305 L465.5,315 L473,310 L488,310 L495.5,302.5 M423,305 L433,297.5 L445.5,296.2 L458,305 M428,307.5 L425.5,320 M465.5,315 L468,330 L478,335 L490.5,332.5 L498,325 M434.2,350 L443,347.5 M438,375 L448,385 L458,382.5 L470.5,380 M448,385 L453,400 L465.5,410 L470.5,425 L473,437.5 M470.5,387.5 L480.5,390 L488,400 L498,402.5 L508,397.5 L518,400 L523,390 M488,400 L493,415 L505.5,420 L515.5,415 L523,422.5 M508,397.5 L510.5,385 L515.5,380 M498,325 L503,340 L515.5,342.5 L523,340 M503,340 L498,355 L505.5,365 L518,365 M523,300 L528,310 L538,307.5 L550.5,317.5 M538,255 L550.5,250 L563,252.5 L573,245 M550.5,250 L548,267.5 L558,280 L573,285 M540.5,275 L548,267.5 M563,372.5 L568,387.5 L560.5,400 L570.5,415 L563,430 L548,437.5 L538,450 M568,387.5 L585.5,385 L603,390 M570.5,415 L585.5,410 L598,420 L605.5,430 M618,320 L630.5,325 L648,320 L660.5,325 M620.5,330 L623,340 M640.5,342.5 L648,355 L643,365 L635.5,365 M648,355 L660.5,360 L673,360 M620.5,370 L613,385 L620.5,395 L630.5,400 L643,390 L648,375 L635.5,365 L620.5,370 M630.5,400 L633,415 L623,425 L615.5,422.5 M643,390 L658,395 L668,390 L673,380 L683,370 M658,395 L660.5,415 L673,425 L683,450 M575.5,347.5 L573,360 M593,248.8 L590.5,257.5 L580.5,252.5 M615.5,225 L615.5,250 L620.5,265 M373,385 L385.5,387.5 L398,397.5 L410.5,395 L420.5,397.5 M430.5,400 L428,415 L433,425 L438,432.5 M573,285 L580.5,300 L578,315 L570.5,335 M580.5,315 L598,320 L613,332.5 M558,150 L556.8,165 L560.5,173.8 L573,177.5 M580.5,177.5 L583,192.5 L585.5,207.5 M618,197.5 L628,210 L623,225 L616.8,235 L618,247.5 L623,260 M715.5,292.5 L718,302.5 L710.5,315 L708,330 L698,340 L695.5,355 L700.5,370 M718,302.5 L733,305 L748,312.5 L763,315 L778,325 L790.5,335 M733,320 L743,330 L748,340 M673,315 L678,330 L675.5,345 L668,365 M575.5,285 L580.5,300 L578,312.5 L583,325 L573,330 M583,325 L598,322.5 L608,330 L613,332.5 M540.5,227.5 L560.5,225 L573,232.5 M538,232.5 L540.5,250 L558,255 L578,260 M540.5,250 L543,267.5 L555.5,280 L570.5,282.5 L575.5,285 M528,182.5 L530.5,200 L523,215 L538,232.5 M498,255 L513,262.5 L523,275 L518,290 M523,275 L543,267.5 M548,222.5 L560.5,212.5 M528,305 L538,300 L550.5,320 M620.5,305 L623,320 L638,325 L658,322.5 M618,297.5 L628,300 M738,347.5 L753,355 L768,350 L785.5,352.5 L798,347.5 M785.5,352.5 L788,367.5 L803,370 M658,335 L648,350 L638,360 L648,375 M498,325 L513,330 L523,345 L513,360 L498,365 M523,345 L533,350 M548,350 L563,357.5 L580.5,357.5 M563,357.5 L560.5,375 M598,375 L603,390 L618,400 L628,410 M573,375 L570.5,390 L580.5,402.5 L573,415 L563,417.5 L548,412.5 L533,430 M580.5,402.5 L598,400 L603,390 M628,410 L638,400 L648,390 L668,387.5 L683,380 M628,410 L633,425 L623,435 L608,440 L598,450 M633,425 L648,432.5 L663,427.5 L683,432.5 L688,450 L683,465 L673,472.5 M683,432.5 L698,425 L705.5,420 M688,450 L703,457.5 L713,447.5 M648,432.5 L653,447.5 L648,460 L658,470 L673,472.5 M608,440 L613,455 L620.5,460 M548,457.5 L543,440 L533,430 L523,432.5 L520.5,447.5 M548,457.5 L555.5,475 L563,492.5 L573,502.5 M523,460 L533,475 L548,480 L555.5,475 M498,505 L513,510 L533,507.5 L548,515 L553,525 M533,507.5 L535.5,492.5 L533,475 M508,530 L513,510 M548,535 L555.5,535 L563,555 L555.5,557.5 M593,535 L603,550 L608,545 M573,530 L580.5,515 L573,502.5 M633,530 L638,550 L633,565 L623,565 M648,527.5 L653,545 L648,560 L645.5,572.5 M668,535 L665.5,550 L673,565 M683,540 L688,555 L683,572.5 M698,535 L705.5,550 L700.5,565 L710.5,582.5 M715.5,537.5 L718,555 L735.5,560 M733,545 L743,560 L748,560 M758,535 L753,555 L755.5,567.5 M758,375 L753,395 L743,412.5 L748,425 L760.5,447.5 M733,375 L728,387.5 L720.5,395 L723,405 M705.5,420 L710.5,435 L723,442.5 L733,450 M620.5,565 L618,582.5 L620.5,600 M593,575 L598,585 L593,600 M568,562.5 L563,580 L558,600 M518,555 L513,575 L523,590 L518,600 M535.5,557.5 L543,565 M673,572.5 L675.5,582.5 L673,600 M645.5,572.5 L638,590 L633,600 M433,497.5 L434.2,515 L434.2,535 L435.5,552.5 M438,500 L453,492.5 L473,487.5 L488,485 L515.5,477.5 M488,485 L498,510 L503,525 L505.5,540 L495.5,550 L490.5,560 L495.5,575 L498,593.8 M490.5,450 L490.5,465 L488,485 M450.5,475 L458,485 M400.5,497.5 L415.5,492.5 L433,497.5 M393,537.5 L390.5,547.5 M370.5,530 L383,535 L393,537.5 L400.5,522.5 M360.5,557.5 L365.5,575 L360.5,595 L365.5,602.5 L373,612.5 L370.5,625 M365.5,575 L380.5,572.5 L393,570 M365.5,602.5 L383,597.5 L398,600 L403,592.5 L415.5,590 L428,577.5 M373,612.5 L388,610 L403,605 L410.5,595 L415.5,590 M418,567.5 L423,575 L428,577.5 M298,580 L310.5,585 L308,595 L298,600 M313,620 L325.5,610 L343,600 L360.5,595 M323,622.5 L328,642.5 M458,592.5 L470.5,602.5 L473,615 M505.5,540 L518,535 L528,527.5 M510.5,550 L515.5,565 L513,580 L515.5,600 M545.5,560 L543,575 L544.2,600 M548,530 L550.5,545 L545.5,560 M570.5,567.5 L563,580 L558,600 L558,615 M575.5,575 L585.5,577.5 L598,575 M598,575 L595.5,590 L590.5,602.5 L580.5,605 M620.5,567.5 L623,590 L620.5,605 M643,567.5 L643,585 L633,592.5 M673,572.5 L675.5,580 L673,595 L683,600 M655.5,567.5 L658,585 L653,600 L660.5,622.5 M528,527.5 L533,512.5 L523,500 L525.5,485 L538,480 M558,495 L548,507.5 L548,530 M568,505 L573,520 L560.5,545 M598,542.5 L595.5,525 L583,507.5 M605.5,557.5 L606.8,542.5 M515.5,477.5 L523,470 L538,480 L550.5,480 M228,585 L233,605 L240.5,625 L248,645 L253,665 L258,677.5 M233,605 L248,602.5 L263,607.5 L273,607.5 L283,597.5 L278,587.5 L268,580 L258,575 M273,607.5 L263,610 L258,625 L253,640 L258,655 L268,662.5 L278,660 L285.5,655 L290.5,642.5 L293,632.5 L285.5,617.5 L278,610 L273,607.5 M285.5,655 L295.5,660 L305.5,665 L313,670 M290.5,642.5 L298,632.5 L308,625 L318,625 L323,635 L325.5,645 L318,655 L313,660 M283,597.5 L288,605 L295.5,617.5 L305.5,625 M310.5,575 L313,587.5 L305.5,597.5 L288,605 M318,625 L323,615 L338,607.5 L353,602.5 L363,610 L373,617.5 M353,602.5 L358,595 L368,585 L380.5,575 L385.5,570 M373,617.5 L380.5,610 L393,605 L403,597.5 L410.5,590 L420.5,592.5 L428,582.5 L430.5,565 M363,610 L368,600 L358,595 M468,590 L473,602.5 L470.5,616.2 M328,582.5 L338,590 L348,597.5 L353,602.5 M385.5,570 L398,575 L410.5,590 M290.5,560 L288,572.5 L298,585 L310.5,575 L323,570 L338,565 L350.5,567.5 M373,382.5 L388,390 L398,400 L405.5,397.5 L420.5,400 L433,390 M420.5,400 L423,415 L418,430 L415.5,447.5 M433,435 L443,425 M398,460 L408,455 L415.5,447.5 M435.5,457.5 L448,457.5 M433,490 L433,505 L435.5,520 L433,535 M373,530 L388,537.5 L398,537.5 M388,537.5 L385.5,555 L390.5,560 M448,390 L453,405 L463,425 L473,435 M468,390 L473,405 L488,405 M480.5,425 L488,415 L498,415 M373,175 L385.5,182.5 L398,180 L410.5,165 M385.5,182.5 L388,200 L398,210 L410.5,207.5 L423,212.5 M398,180 L410.5,187.5 L423,185 L433,175 M410.5,207.5 L415.5,222.5 M373,235 L390.5,242.5 L408,237.5 L423,245 L443,235 L453,225 M408,237.5 L403,255 L413,267.5 L428,262.5 L443,267.5 M390.5,267.5 L403,255 M443,235 L448,250 L443,267.5 L450.5,280 M463,205 L468,225 L480.5,237.5 M423,285 L420.5,300 L430.5,310 L423,312.5" fill="none" stroke="rgba(150,215,245,0.7)" stroke-width="1.2" stroke-linejoin="round" stroke-linecap="round"/></g>
</g>
<g transform="translate(702,0)">
<use href="#wales"/>
<g clip-path="url(#eng)">
<rect x="100" y="-5" width="720" height="760" fill="#0c8cd6"/>
<g transform="translate(-702,0)">
<polygon points="1135,12.5 1140,-2.5 1230,-2.5 1250,15 1250,37.5 1232.5,45 1225,52.5 1212.5,60 1205,57.5 1195,50 1185,52.5 1170,60 1150,60 1145,52.5 1137.5,37.5 1132.5,25" fill="#0fa9de"/>
<polygon points="1082.5,110 1090,102.5 1110,100 1115,110 1120,125 1110,130 1100,135 1087.5,132.5 1085,120" fill="#0fa9de"/>
<polygon points="1235,130 1250,122.5 1260,130 1261.2,160 1260,175 1247.5,180 1235,175 1227.5,162.5 1228.8,147.5" fill="#0fa9de"/>
<polygon points="1087.5,175 1112.5,172.5 1130,175 1135,150 1140,142.5 1150,147.5 1160,150 1162.5,162.5 1175,165 1185,172.5 1200,175 1222.5,172.5 1235,175 1250,182.5 1260,187.5 1262.5,200 1257.5,212.5 1250,227.5 1187.5,227.5 1175,212.5 1165,200 1160,190 1150,195 1145,207.5 1150,227.5 1120,227.5 1117.5,212.5 1110,200 1100,195 1090,190" fill="#0fa9de"/>
<polygon points="1440,347.5 1450,340 1462.5,335 1475,337.5 1490,335 1500,328.8 1515,340 1515,377.5 1440,377.5 1435,357.5" fill="#0fa9de"/>
<polygon points="1197.5,177.5 1215,175 1230,182.5 1245,192.5 1260,197.5 1262.5,212.5 1250,222.5 1240,232.5 1230,230 1220,222.5 1210,212.5 1197.5,210" fill="#0fa9de"/>
<polygon points="1282.5,182.5 1300,180 1317.5,182.5 1325,192.5 1315,200 1305,205 1295,212.5 1287.5,207.5 1285,195" fill="#0fa9de"/>
<polygon points="1285,255 1300,252.5 1315,257.5 1322.5,267.5 1325,285 1320,297.5 1310,300 1302.5,297.5 1297.5,285 1287.5,280 1285,267.5" fill="#0fa9de"/>
<polygon points="1325,290 1335,285 1350,275 1370,275 1360,295 1350,302.5 1340,302.5 1330,300" fill="#0fa9de"/>
<polygon points="1197.5,290 1215,285 1230,290 1240,300 1235,312.5 1225,325 1215,330 1197.5,330" fill="#0fa9de"/>
<polygon points="1282.5,357.5 1300,350 1312.5,352.5 1320,360 1310,370 1295,377.5 1275,377.5" fill="#0fa9de"/>
<polygon points="1107.5,225 1097.5,212.5 1100,195 1095,180 1112.5,165 1125,157.5 1135,147.5 1160,147.5 1175,160 1190,170 1202.5,175 1202.5,210 1190,215 1175,210 1165,205 1155,215 1145,225 1132.5,227.5 1120,222.5" fill="#0fa9de"/>
<polygon points="1102.5,322.5 1115,315 1125,312.5 1132.5,325 1125,340 1115,345 1107.5,335" fill="#0fa9de"/>
<polygon points="1127.5,285 1137.5,277.5 1145,280 1142.5,290 1132.5,295" fill="#0fa9de"/>
<polygon points="1235,385 1245,375 1255,367.5 1265,372.5 1275,360 1290,352.5 1300,352.5 1312.5,360 1317.5,370 1310,380 1305,390 1315,400 1322.5,410 1317.5,422.5 1307.5,430 1300,437.5 1292.5,452.5 1230,452.5 1225,437.5 1227.5,422.5 1232.5,410 1230,397.5" fill="#0fa9de"/>
<polygon points="1105,325 1117.5,317.5 1127.5,322.5 1125,335 1117.5,342.5 1110,335" fill="#0fa9de"/>
<polygon points="1200,300 1212.5,295 1225,300 1235,310 1245,320 1250,330 1240,337.5 1225,340 1212.5,335 1202.5,325 1197.5,312.5" fill="#0fa9de"/>
<polygon points="1205,245 1215,240 1225,245 1240,255 1242.5,275 1235,287.5 1225,290 1215,280 1207.5,265" fill="#0fa9de"/>
<polygon points="1220,365 1230,370 1235,382.5 1225,390 1217.5,380" fill="#0fa9de"/>
<polygon points="1327.5,287.5 1337.5,285 1350,277.5 1360,278.8 1355,290 1345,300 1335,300" fill="#0fa9de"/>
<polygon points="1125,280 1135,275 1145,282.5 1142.5,292.5 1132.5,295 1125,290" fill="#0fa9de"/>
<polygon points="1385,370 1402.5,372.5 1402.5,385 1387.5,385" fill="#0fa9de"/>
<polygon points="1227.5,372.5 1300,372.5 1320,390 1330,407.5 1317.5,425 1310,440 1300,450 1295,465 1297.5,480 1305,490 1300,500 1287.5,507.5 1275,502.5 1265,492.5 1257.5,475 1250,457.5 1245,440 1235,430 1230,412.5 1225,395" fill="#0fa9de"/>
<polygon points="1375,472.5 1390,465 1405,457.5 1415,447.5 1425,445 1435,450 1433.8,462.5 1425,470 1412.5,470 1405,475 1400,487.5 1392.5,497.5 1382.5,495 1375,485" fill="#0fa9de"/>
<polygon points="1335,530 1350,527.5 1370,535 1385,540 1400,535 1417.5,537.5 1432.5,545 1437.5,560 1425,575 1412.5,582.5 1400,575 1385,572.5 1375,565 1360,562.5 1345,565 1335,555" fill="#0fa9de"/>
<polygon points="1210,530 1230,527.5 1250,535 1252.5,550 1237.5,557.5 1220,555 1210,545" fill="#0fa9de"/>
<polygon points="1257.5,535 1275,530 1295,535 1305,550 1300,560 1282.5,557.5 1265,555" fill="#0fa9de"/>
<polygon points="1460,535 1490,530 1490,550 1467.5,565 1457.5,567.5 1455,555" fill="#0fa9de"/>
<polygon points="1203.8,367.5 1220,367.5 1225,390 1215,402.5 1205,400" fill="#0fa9de"/>
<polygon points="1300,450 1320,455 1325,480 1340,492.5 1355,497.5 1375,492.5 1415,500 1415,530 1360,530 1315,540 1300,505" fill="#0fa9de"/>
<polygon points="1100,497.5 1110,485 1125,472.5 1137.5,457.5 1150,457.5 1152.5,475 1145,485 1135,490 1135,505 1137.5,520 1135,535 1130,542.5 1120,545 1110,547.5 1100,537.5 1105,525 1100,515" fill="#0fa9de"/>
<polygon points="1137.5,497.5 1150,492.5 1160,487.5 1185,485 1202.5,485 1202.5,592.5 1185,590 1170,587.5 1150,582.5 1135,580 1127.5,572.5 1136.2,555 1135,535 1137.5,520" fill="#0fa9de"/>
<polygon points="1140,500 1150,492.5 1165,487.5 1180,487.5 1190,485 1197.5,495 1200,510 1205,525 1207.5,540 1197.5,550 1192.5,560 1197.5,575 1200,593.8 1185,595 1172.5,590 1160,592.5 1150,592.5 1140,582.5 1130,577.5 1132.5,565 1137.5,552.5 1136.2,532.5 1137.5,515" fill="#0fa9de"/>
<polygon points="1212.5,532.5 1230,527.5 1250,530 1252.5,545 1247.5,560 1245,575 1246.2,600 1240,615 1225,612.5 1217.5,600 1215,580 1217.5,565 1212.5,550" fill="#0fa9de"/>
<polygon points="1250,465 1265,460 1287.5,465 1300,480 1297.5,500 1285,507.5 1270,505 1260,495 1252.5,480" fill="#0fa9de"/>
<polygon points="1102.5,497.5 1117.5,492.5 1135,497.5 1136.2,515 1136.2,532.5 1120,535 1107.5,530 1100,520 1105,510" fill="#0fa9de"/>
<polygon points="1052.5,567.5 1065,560 1075,567.5 1070,575 1060,575" fill="#0fa9de"/>
<polygon points="1010,590 1025,585 1040,592.5 1045,600 1027.5,610 1015,620 997.5,625 997.5,605" fill="#0fa9de"/>
<polygon points="1300,570 1322.5,567.5 1325,590 1322.5,615 1300,615 1297.5,590" fill="#0fa9de"/>
<polygon points="1325,570 1345,567.5 1345,585 1335,592.5 1335,615 1325,615" fill="#0fa9de"/>
<polygon points="1262.5,545 1300,542.5 1307.5,557.5 1300,570 1277.5,570 1265,557.5" fill="#0fa9de"/>
<polygon points="1067.5,15 1075,5 1095,-2.5 1147.5,-2.5 1146.2,3.8 1132.5,5 1132.5,12.5 1130,25 1135,37.5 1145,52.5 1150,60 1135,65 1130,75 1127.5,85 1122.5,92.5 1110,97.5 1095,100 1082.5,98.8 1075,102.5 1070,110 1065,97.5 1060,100 1053.8,115 1050,100 1052.5,82.5 1057.5,62.5 1070,55 1067.5,35" fill="#2b50a3"/>
<polygon points="1130,75 1135,65 1150,60 1170,60 1185,52.5 1195,50 1205,57.5 1212.5,60 1230,53.8 1247.5,56.2 1262.5,53.8 1270,42.5 1300,62.5 1350,105 1350,120 1330,130 1362.5,195 1342.5,190 1330,180 1322.5,172.5 1317.5,162.5 1310,165 1307.5,175 1285,175 1275,185 1260,185 1247.5,180 1260,175 1261.2,160 1262.5,140 1260,130 1250,122.5 1240,130 1225,137.5 1212.5,143.8 1197.5,145 1182.5,140 1175,135 1167.5,140 1160,147.5 1155,152.5 1150,145 1140,140 1135,150 1130,160 1117.5,165 1107.5,162.5 1103.8,152.5 1107.5,140 1110,130 1120,125 1115,110 1120,100 1127.5,85" fill="#2b50a3"/>
<polygon points="1060,147.5 1075,142.5 1085,142.5 1097.5,145 1095,155 1085,162.5 1082.5,175 1067.5,175 1072.5,157.5" fill="#2b50a3"/>
<polygon points="1275,212.5 1282.5,207.5 1300,210 1315,197.5 1322.5,200 1327.5,212.5 1332.5,227.5 1272.5,227.5" fill="#2b50a3"/>
<polygon points="1335,212.5 1347.5,207.5 1357.5,215 1367.5,227.5 1332.5,227.5" fill="#2b50a3"/>
<polygon points="1260,147.5 1340,147.5 1370,190 1347.5,191.2 1335,187.5 1325,180 1317.5,167.5 1312.5,163.8 1307.5,170 1302.5,175 1285,175 1275,177.5 1262.5,172.5 1258.8,162.5" fill="#2b50a3"/>
<polygon points="1275,215 1285,208.8 1290,215 1300,212.5 1310,202.5 1320,197.5 1330,207.5 1327.5,225 1320,237.5 1322.5,250 1310,255 1300,247.5 1287.5,248.8 1280,245 1275,232.5" fill="#2b50a3"/>
<polygon points="1327.5,225 1330,212.5 1340,207.5 1350,208.8 1370,220 1380,237.5 1385,257.5 1380,272.5 1365,275 1352.5,275 1347.5,282.5 1337.5,283.8 1330,275 1325,260 1322.5,250 1320,237.5" fill="#2b50a3"/>
<polygon points="1252.5,320 1262.5,310 1272.5,300 1277.5,285 1287.5,280 1297.5,285 1302.5,297.5 1312.5,302.5 1320,305 1321.2,320 1315,332.5 1302.5,336.2 1295,345 1285,352.5 1277.5,347.5 1272.5,335 1262.5,332.5 1255,327.5" fill="#2b50a3"/>
<polygon points="1362.5,322.5 1375,315 1375,300 1390,285 1512.5,285 1512.5,330 1495,327.5 1490,335 1475,337.5 1462.5,335 1450,340 1440,347.5 1435,357.5 1440,367.5 1435,377.5 1380,377.5 1370,365 1363.8,350 1365,335" fill="#2b50a3"/>
<polygon points="1475,370 1515,367.5 1515,377.5 1475,377.5" fill="#2b50a3"/>
<polygon points="1105,147.5 1132.5,147.5 1125,157.5 1115,162.5 1107.5,157.5" fill="#2b50a3"/>
<polygon points="1025,310 1060,300 1072.5,297.5 1082.5,302.5 1095,292.5 1107.5,291.2 1117.5,297.5 1122.5,307.5 1110,315 1102.5,325 1110,335 1120,342.5 1132.5,340 1136.2,350 1132.5,365 1127.5,375 1122.5,387.5 1130,395 1140,405 1145,420 1140,432.5 1132.5,440 1117.5,442.5 1115,452.5 1025,452.5" fill="#2b50a3"/>
<polygon points="1177.5,242.5 1185,235 1197.5,237.5 1202.5,250 1205,265 1200,280 1192.5,292.5 1182.5,300 1177.5,297.5 1180,285 1185,275 1180,262.5 1178.8,252.5" fill="#2b50a3"/>
<polygon points="1275,222.5 1360,222.5 1390,240 1390,270 1362.5,278.8 1355,275 1347.5,282.5 1337.5,283.8 1327.5,275 1322.5,262.5 1320,250 1307.5,247.5 1295,248.8 1285,245 1277.5,237.5" fill="#2b50a3"/>
<polygon points="1252.5,317.5 1262.5,307.5 1272.5,295 1277.5,282.5 1287.5,280 1297.5,287.5 1302.5,297.5 1312.5,302.5 1320,305 1320,320 1315,332.5 1302.5,337.5 1295,345 1285,352.5 1277.5,347.5 1272.5,335 1262.5,332.5 1255,327.5" fill="#2b50a3"/>
<polygon points="1362.5,325 1370,317.5 1380,312.5 1390,295 1402.5,292.5 1402.5,370 1390,365 1375,360 1367.5,350 1363.8,337.5" fill="#2b50a3"/>
<polygon points="1175,432.5 1185,425 1192.5,432.5 1195,442.5 1190,452.5 1172.5,452.5" fill="#2b50a3"/>
<polygon points="1200,445 1212.5,442.5 1220,452.5 1200,452.5" fill="#2b50a3"/>
<polygon points="1412.5,372.5 1425,380 1435,372.5 1525,372.5 1525,450 1475,450 1465,475 1440,475 1433.8,462.5 1435,450 1425,442.5 1415,435 1407.5,420 1417.5,412.5 1425,405 1422.5,395 1430,387.5" fill="#2b50a3"/>
<polygon points="1405,475 1412.5,470 1425,472.5 1440,480 1440,490 1420,492.5 1410,490 1405,482.5" fill="#2b50a3"/>
<polygon points="1197.5,442.5 1212.5,441.2 1222.5,447.5 1225,460 1220,475 1210,482.5 1197.5,480" fill="#2b50a3"/>
<polygon points="1310,545 1317.5,540 1322.5,550 1322.5,565 1310,567.5 1307.5,555" fill="#2b50a3"/>
<polygon points="1245,565 1257.5,557.5 1270,562.5 1280,570 1295,575 1305,572.5 1300,585 1295,602.5 1250,602.5 1247.5,582.5" fill="#2b50a3"/>
<polygon points="1340,602.5 1345,587.5 1347.5,572.5 1360,567.5 1375,572.5 1385,577.5 1400,587.5 1412.5,592.5 1420,587.5 1422.5,600 1415,605" fill="#2b50a3"/>
<polygon points="1440,565 1450,560 1465,565 1450,582.5 1432.5,590 1432.5,600 1422.5,600 1420,587.5 1425,580 1437.5,570" fill="#2b50a3"/>
<polygon points="1025,372.5 1125,372.5 1135,390 1142.5,407.5 1145,425 1135,435 1122.5,437.5 1117.5,447.5 1110,455 1100,460 1092.5,460 1075,460 1025,425" fill="#2b50a3"/>
<polygon points="1150,457.5 1162.5,447.5 1175,435 1182.5,425 1192.5,432.5 1202.5,437.5 1202.5,485 1185,485 1170,485 1160,487.5 1150,492.5 1137.5,495 1135,490 1145,485 1152.5,475" fill="#2b50a3"/>
<polygon points="950,537.5 1060,557.5 1052.5,567.5 1062.5,575 1075,580 1087.5,572.5 1092.5,560 1095,550 1105,545 1120,545 1132.5,542.5 1136.2,555 1132.5,565 1127.5,572.5 1135,580 1150,582.5 1170,587.5 1185,590 1202.5,592.5 1202.5,602.5 900,602.5" fill="#2b50a3"/>
<polygon points="997.5,552.5 1015,552.5 1032.5,557.5 1050,560 1062.5,557.5 1070,565 1082.5,570 1090,560 1092.5,547.5 1105,542.5 1120,545 1135,542.5 1137.5,552.5 1132.5,565 1130,577.5 1140,582.5 1150,592.5 1160,592.5 1172.5,590 1185,595 1200,593.8 1210,600 1217.5,610 1225,616.2 1212.5,625 1202.5,635 1175,630 1162.5,650 1120,662.5 1075,640 1030,650 1015,680 997.5,680 997.5,625 1015,620 1027.5,610 1045,600 1040,592.5 1025,585 1015,590 997.5,605" fill="#2b50a3"/>
<polygon points="1155,457.5 1162.5,447.5 1222.5,447.5 1220,465 1217.5,477.5 1205,480 1192.5,482.5 1180,485 1170,482.5 1160,485 1150,490 1140,497.5 1135,495 1135,487.5 1145,482.5 1152.5,475 1150,465" fill="#2b50a3"/>
<polygon points="1072.5,447.5 1117.5,447.5 1112.5,457.5 1100,465 1087.5,457.5" fill="#2b50a3"/>
<polygon points="1195,635 1225,617.5 1250,630 1230,652.5 1212.5,647.5" fill="#2b50a3"/>
<polygon points="1246.2,562.5 1255,557.5 1265,557.5 1272.5,567.5 1277.5,575 1287.5,577.5 1300,575 1297.5,590 1292.5,602.5 1282.5,605 1275,630 1250,625 1247.5,600 1246.2,580" fill="#2b50a3"/>
<polygon points="1285,602.5 1295,600 1305,602.5 1302.5,622.5 1285,625" fill="#2b50a3"/>
<polygon points="1308.8,542.5 1315,538.8 1321.2,550 1322.5,562.5 1312.5,565 1308.8,555" fill="#2b50a3"/>
<polygon points="1335,592.5 1345,585 1347.5,570 1357.5,567.5 1375,572.5 1390,582.5 1402.5,587.5 1402.5,610 1370,630 1347.5,622.5 1332.5,612.5" fill="#2b50a3"/>
<polygon points="930,575 935,605 942.5,625 950,645 955,665 960,677.5 960,715 1050,715 1050,660 1175,660 1202.5,635 1202.5,593.8 1185,595 1170,590 1160,590 1150,587.5 1140,575 1132.5,565 1132.5,557.5 950,557.5" fill="#2b50a3"/>
<polygon points="1192.5,32.5 1202.5,30 1212.5,37.5 1210,50 1197.5,47.5" fill="#0c8cd6"/>
<polygon points="1017.5,587.5 1030,582.5 1040,587.5 1050,595 1055,602.5 1015,602.5" fill="#0c8cd6"/>
<polygon points="990,605 1000,597.5 1017.5,585 1030,582.5 1040,590 1050,597.5 1055,602.5 1040,607.5 1025,615 1020,625 1007.5,625 997.5,617.5" fill="#0c8cd6"/>
<polygon points="1052.5,567.5 1065,558.8 1082.5,558.8 1087.5,570 1075,577.5 1062.5,575" fill="#0c8cd6"/>
<polygon points="1160.8,621.2 1167,616.2 1174.5,616.2 1179.5,617.5 1184.5,622.5 1182,627 1174.5,629 1168.2,632 1164.5,636 1157,633" fill="#0fa9de"/>
<polygon points="959,669 967.5,670 970,677 962,679" fill="#0fa9de"/>
<polygon points="1165,142.5 1175,137.5 1182.5,142.5 1197.5,147.5 1212.5,145 1222.5,142.5 1225,160 1222.5,172.5 1200,175 1195,167.5 1185,170 1175,162.5 1162.5,160" fill="#b1d7cb"/>
<polygon points="1115,180 1122.5,175 1130,185 1125,197.5 1117.5,197.5" fill="#b1d7cb"/>
<polygon points="1142.5,190 1155,187.5 1162.5,197.5 1160,207.5 1150,212.5 1142.5,207.5" fill="#b1d7cb"/>
<polygon points="1190,212.5 1200,210 1212.5,217.5 1220,227.5 1187.5,227.5" fill="#b1d7cb"/>
<polygon points="1090,152.5 1100,150 1103.8,162.5 1095,170 1088.8,165" fill="#b1d7cb"/>
<polygon points="1310,165 1317.5,162.5 1322.5,175 1312.5,175" fill="#b1d7cb"/>
<polygon points="1310.5,163.8 1315,163 1319.5,163.8 1320.2,169.1 1319.5,174.5 1315,175.2 1310.5,174.5 1309.8,169.1" fill="#b1d7cb"/>
<polygon points="1197.5,147.5 1222.5,147.5 1225,165 1215,175 1197.5,177.5" fill="#b1d7cb"/>
<polygon points="1197.5,215 1212.5,217.5 1217.5,230 1207.5,237.5 1197.5,237.5" fill="#b1d7cb"/>
<polygon points="1233,285.5 1237.5,284.8 1242,285.5 1242.8,291.2 1242,297 1237.5,297.8 1233,297 1232.2,291.2" fill="#b1d7cb"/>
<polygon points="1235.5,335.5 1241.2,334.8 1247,335.5 1247.8,342.5 1247,349.5 1241.2,350.2 1235.5,349.5 1234.8,342.5" fill="#b1d7cb"/>
<polygon points="1302.5,340 1317.5,337.5 1340,338.8 1342.5,345 1330,350 1322.5,357.5 1312.5,352.5 1302.5,350" fill="#b1d7cb"/>
<polygon points="1092.5,152.5 1102.5,150 1107.5,160 1100,170 1092.5,165" fill="#b1d7cb"/>
<polygon points="1112.5,172.5 1125,170 1127.5,182.5 1117.5,185" fill="#b1d7cb"/>
<polygon points="1137.5,180 1150,182.5 1160,195 1150,205 1145,220 1137.5,217.5 1140,200" fill="#b1d7cb"/>
<polygon points="1162.5,147.5 1202.5,147.5 1202.5,167.5 1182.5,165 1170,157.5" fill="#b1d7cb"/>
<polygon points="1072.5,217.5 1082.5,225 1100,230 1100,237.5 1082.5,237.5 1075,230" fill="#b1d7cb"/>
<polygon points="1190,212.5 1202.5,210 1202.5,230 1192.5,225" fill="#b1d7cb"/>
<polygon points="1145,347.5 1157.5,342.5 1172.5,340 1182.5,350 1187.5,362.5 1180,372.5 1167.5,370 1157.5,362.5 1147.5,360" fill="#b1d7cb"/>
<polygon points="1143,275.5 1147.5,274.8 1152,275.5 1152.8,282.5 1152,289.5 1147.5,290.2 1143,289.5 1142.2,282.5" fill="#b1d7cb"/>
<polygon points="1147.5,347.5 1160,342.5 1172.5,340 1182.5,350 1187.5,362.5 1180,372.5 1172.5,380 1162.5,380 1157.5,367.5 1150,357.5" fill="#b1d7cb"/>
<polygon points="1302.5,342.5 1315,340 1332.5,338.8 1342.5,342.5 1335,350 1322.5,357.5 1312.5,352.5" fill="#b1d7cb"/>
<polygon points="1142.5,275 1150,272.5 1152.5,287.5 1145,290" fill="#b1d7cb"/>
<polygon points="1195,222.5 1215,222.5 1217.5,232.5 1205,237.5 1197.5,232.5" fill="#b1d7cb"/>
<polygon points="1072.5,222.5 1100,222.5 1100,232.5 1082.5,240 1075,235" fill="#b1d7cb"/>
<polygon points="1233,286.8 1236.9,286 1240.8,286.8 1241.5,291.9 1240.8,297 1236.9,297.8 1233,297 1232.2,291.9" fill="#b1d7cb"/>
<polygon points="1236.8,338 1241.2,337.2 1245.8,338 1246.5,342.5 1245.8,347 1241.2,347.8 1236.8,347 1236,342.5" fill="#b1d7cb"/>
<polygon points="1353,405.5 1357.5,404.8 1362,405.5 1362.8,409.4 1362,413.2 1357.5,414 1353,413.2 1352.2,409.4" fill="#b1d7cb"/>
<polygon points="1354.2,405.5 1358.1,404.8 1362,405.5 1362.8,409.4 1362,413.2 1358.1,414 1354.2,413.2 1353.5,409.4" fill="#b1d7cb"/>
<polygon points="1228,470.5 1232.5,469.8 1237,470.5 1237.8,475 1237,479.5 1232.5,480.2 1228,479.5 1227.2,475" fill="#b1d7cb"/>
<polygon points="1303,450.5 1307.5,449.8 1312,450.5 1312.8,455 1312,459.5 1307.5,460.2 1303,459.5 1302.2,455" fill="#b1d7cb"/>
<polygon points="1253,515.5 1256.2,514.8 1259.5,515.5 1260.2,520 1259.5,524.5 1256.2,525.2 1253,524.5 1252.2,520" fill="#b1d7cb"/>
<polygon points="1325.5,563 1328.8,562.2 1332,563 1332.8,567.5 1332,572 1328.8,572.8 1325.5,572 1324.8,567.5" fill="#b1d7cb"/>
<polygon points="1322.5,460 1330,457.5 1335,475 1342.5,490 1355,500 1360,512.5 1350,522.5 1335,525 1325,522.5 1320,535 1315,530 1317.5,515 1310,505 1305,492.5 1315,485 1322.5,475" fill="url(#motr)"/>
<polygon points="1372.5,505 1385,495 1392.5,500 1400,510 1410,517.5 1405,527.5 1390,525 1375,522.5 1365,520" fill="url(#motr)"/>
<polygon points="1459,341 1462.5,340.2 1466,341 1466.8,344 1466,347 1462.5,347.8 1459,347 1458.2,344" fill="#fdfdf2"/>
<polygon points="1200,375 1202,371 1206.2,369.2 1210.5,371 1212.5,375 1210.5,379.2 1206.2,381 1202,379.2" fill="#fdfdf2"/>
<polygon points="1205.5,373.8 1208.8,373 1212,373.8 1212.8,376.6 1212,379.5 1208.8,380.2 1205.5,379.5 1204.8,376.6" fill="#fdfdf2"/>
<polygon points="1104.2,514.2 1108.1,513.5 1112,514.2 1112.8,519.4 1112,524.5 1108.1,525.2 1104.2,524.5 1103.5,519.4" fill="#fdfdf2"/>
<path d="M1072.5,0 L1067.5,15 L1066.2,32.5 L1070,50 L1060,57.5 L1057.5,65 M1070,52.5 L1085,56.2 L1100,65 L1115,71.2 L1130,75 L1133.8,65 L1150,60 M1017.5,37.5 L1032.5,42.5 L1050,57.5 L1058.8,61.2 M1130,75 L1131.2,87.5 L1127.5,92.5 M1132.5,5 L1132.5,22.5 L1138.8,37.5 L1146.2,53.8 L1150,60 M1150,60 L1165,58.8 L1185,51.2 L1197.5,50 L1207.5,58.8 M1207.5,58.8 L1200,72.5 L1192.5,90 L1195,100 L1207.5,98.8 L1217.5,102.5 L1222.5,112.5 L1232.5,125 L1237.5,130 M1130,92.5 L1142.5,93.8 L1155,100 L1165,103.8 L1175,97.5 L1190,92.5 M1165,103.8 L1170,117.5 L1176.2,127.5 L1178.8,137.5 M1207.5,58.8 L1220,56.2 L1235,53.8 L1250,57.5 L1262.5,53.8 M1250,57.5 L1246.2,72.5 L1236.2,75 L1232.5,85 L1237.5,100 L1250,110 L1250,122.5 M1247.5,67.5 L1260,71.2 L1275,75 L1287.5,77.5 L1290,92.5 L1300,102.5 L1295,115 L1282.5,125 L1270,130 L1262.5,132.5 M1300,102.5 L1312.5,107.5 L1325,111.2 M1115,110 L1120,120 L1125,130 L1135,140 L1140,150 M1110,130 L1120,125 M1260,130 L1262.5,150 L1261.2,175 M1087.5,175 L1100,180 L1112.5,175 M1130,175 L1135,190 L1130,205 M1160,160 L1165,175 L1160,190 M1175,165 L1180,180 L1190,190 L1200,185 L1200,175 M1200,185 L1215,190 L1225,180 L1222.5,172.5 M1225,190 L1235,200 L1250,195 L1260,187.5 M1235,200 L1232.5,215 L1240,225 M1260,187.5 L1265,205 L1262.5,225 M1275,185 L1280,200 L1275,212.5 M1282.5,207.5 L1300,210 L1315,197.5 L1322.5,200 L1327.5,212.5 M1165,200 L1180,207.5 L1190,212.5 M1145,207.5 L1160,207.5 L1165,200 M1110,200 L1120,207.5 L1117.5,225 M1090,190 L1100,195 L1110,200 M1070,190 L1087.5,190 M1192.5,32.5 L1202.5,30 L1212.5,37.5 L1215,50 M1215,30 L1225,27.5 L1235,37.5 L1232.5,45 M1162.5,225 L1165,240 L1162.5,252.5 L1172.5,257.5 L1175,267.5 M1075,267.5 L1095,275 L1110,262.5 L1125,250 L1140,240 L1162.5,237.5 M1095,275 L1100,285 L1112.5,290 L1122.5,300 M1125,250 L1130,265 L1140,272.5 L1150,270 L1162.5,252.5 M1150,270 L1155,285 L1165,295 L1175,300 L1178.8,297.5 M1165,295 L1160,305 L1167.5,315 L1175,310 L1190,310 L1197.5,302.5 M1125,305 L1135,297.5 L1147.5,296.2 L1160,305 M1130,307.5 L1127.5,320 M1167.5,315 L1170,330 L1180,335 L1192.5,332.5 L1200,325 M1136.2,350 L1145,347.5 M1140,375 L1150,385 L1160,382.5 L1172.5,380 M1150,385 L1155,400 L1167.5,410 L1172.5,425 L1175,437.5 M1172.5,387.5 L1182.5,390 L1190,400 L1200,402.5 L1210,397.5 L1220,400 L1225,390 M1190,400 L1195,415 L1207.5,420 L1217.5,415 L1225,422.5 M1210,397.5 L1212.5,385 L1217.5,380 M1200,325 L1205,340 L1217.5,342.5 L1225,340 M1205,340 L1200,355 L1207.5,365 L1220,365 M1225,300 L1230,310 L1240,307.5 L1252.5,317.5 M1240,255 L1252.5,250 L1265,252.5 L1275,245 M1252.5,250 L1250,267.5 L1260,280 L1275,285 M1242.5,275 L1250,267.5 M1265,372.5 L1270,387.5 L1262.5,400 L1272.5,415 L1265,430 L1250,437.5 L1240,450 M1270,387.5 L1287.5,385 L1305,390 M1272.5,415 L1287.5,410 L1300,420 L1307.5,430 M1320,320 L1332.5,325 L1350,320 L1362.5,325 M1322.5,330 L1325,340 M1342.5,342.5 L1350,355 L1345,365 L1337.5,365 M1350,355 L1362.5,360 L1375,360 M1322.5,370 L1315,385 L1322.5,395 L1332.5,400 L1345,390 L1350,375 L1337.5,365 L1322.5,370 M1332.5,400 L1335,415 L1325,425 L1317.5,422.5 M1345,390 L1360,395 L1370,390 L1375,380 L1385,370 M1360,395 L1362.5,415 L1375,425 L1385,450 M1277.5,347.5 L1275,360 M1295,248.8 L1292.5,257.5 L1282.5,252.5 M1317.5,225 L1317.5,250 L1322.5,265 M1075,385 L1087.5,387.5 L1100,397.5 L1112.5,395 L1122.5,397.5 M1132.5,400 L1130,415 L1135,425 L1140,432.5 M1275,285 L1282.5,300 L1280,315 L1272.5,335 M1282.5,315 L1300,320 L1315,332.5 M1260,150 L1258.8,165 L1262.5,173.8 L1275,177.5 M1282.5,177.5 L1285,192.5 L1287.5,207.5 M1320,197.5 L1330,210 L1325,225 L1318.8,235 L1320,247.5 L1325,260 M1417.5,292.5 L1420,302.5 L1412.5,315 L1410,330 L1400,340 L1397.5,355 L1402.5,370 M1420,302.5 L1435,305 L1450,312.5 L1465,315 L1480,325 L1492.5,335 M1435,320 L1445,330 L1450,340 M1375,315 L1380,330 L1377.5,345 L1370,365 M1277.5,285 L1282.5,300 L1280,312.5 L1285,325 L1275,330 M1285,325 L1300,322.5 L1310,330 L1315,332.5 M1242.5,227.5 L1262.5,225 L1275,232.5 M1240,232.5 L1242.5,250 L1260,255 L1280,260 M1242.5,250 L1245,267.5 L1257.5,280 L1272.5,282.5 L1277.5,285 M1230,182.5 L1232.5,200 L1225,215 L1240,232.5 M1200,255 L1215,262.5 L1225,275 L1220,290 M1225,275 L1245,267.5 M1250,222.5 L1262.5,212.5 M1230,305 L1240,300 L1252.5,320 M1322.5,305 L1325,320 L1340,325 L1360,322.5 M1320,297.5 L1330,300 M1440,347.5 L1455,355 L1470,350 L1487.5,352.5 L1500,347.5 M1487.5,352.5 L1490,367.5 L1505,370 M1360,335 L1350,350 L1340,360 L1350,375 M1200,325 L1215,330 L1225,345 L1215,360 L1200,365 M1225,345 L1235,350 M1250,350 L1265,357.5 L1282.5,357.5 M1265,357.5 L1262.5,375 M1300,375 L1305,390 L1320,400 L1330,410 M1275,375 L1272.5,390 L1282.5,402.5 L1275,415 L1265,417.5 L1250,412.5 L1235,430 M1282.5,402.5 L1300,400 L1305,390 M1330,410 L1340,400 L1350,390 L1370,387.5 L1385,380 M1330,410 L1335,425 L1325,435 L1310,440 L1300,450 M1335,425 L1350,432.5 L1365,427.5 L1385,432.5 L1390,450 L1385,465 L1375,472.5 M1385,432.5 L1400,425 L1407.5,420 M1390,450 L1405,457.5 L1415,447.5 M1350,432.5 L1355,447.5 L1350,460 L1360,470 L1375,472.5 M1310,440 L1315,455 L1322.5,460 M1250,457.5 L1245,440 L1235,430 L1225,432.5 L1222.5,447.5 M1250,457.5 L1257.5,475 L1265,492.5 L1275,502.5 M1225,460 L1235,475 L1250,480 L1257.5,475 M1200,505 L1215,510 L1235,507.5 L1250,515 L1255,525 M1235,507.5 L1237.5,492.5 L1235,475 M1210,530 L1215,510 M1250,535 L1257.5,535 L1265,555 L1257.5,557.5 M1295,535 L1305,550 L1310,545 M1275,530 L1282.5,515 L1275,502.5 M1335,530 L1340,550 L1335,565 L1325,565 M1350,527.5 L1355,545 L1350,560 L1347.5,572.5 M1370,535 L1367.5,550 L1375,565 M1385,540 L1390,555 L1385,572.5 M1400,535 L1407.5,550 L1402.5,565 L1412.5,582.5 M1417.5,537.5 L1420,555 L1437.5,560 M1435,545 L1445,560 L1450,560 M1460,535 L1455,555 L1457.5,567.5 M1460,375 L1455,395 L1445,412.5 L1450,425 L1462.5,447.5 M1435,375 L1430,387.5 L1422.5,395 L1425,405 M1407.5,420 L1412.5,435 L1425,442.5 L1435,450 M1322.5,565 L1320,582.5 L1322.5,600 M1295,575 L1300,585 L1295,600 M1270,562.5 L1265,580 L1260,600 M1220,555 L1215,575 L1225,590 L1220,600 M1237.5,557.5 L1245,565 M1375,572.5 L1377.5,582.5 L1375,600 M1347.5,572.5 L1340,590 L1335,600 M1135,497.5 L1136.2,515 L1136.2,535 L1137.5,552.5 M1140,500 L1155,492.5 L1175,487.5 L1190,485 L1217.5,477.5 M1190,485 L1200,510 L1205,525 L1207.5,540 L1197.5,550 L1192.5,560 L1197.5,575 L1200,593.8 M1192.5,450 L1192.5,465 L1190,485 M1152.5,475 L1160,485 M1102.5,497.5 L1117.5,492.5 L1135,497.5 M1095,537.5 L1092.5,547.5 M1072.5,530 L1085,535 L1095,537.5 L1102.5,522.5 M1062.5,557.5 L1067.5,575 L1062.5,595 L1067.5,602.5 L1075,612.5 L1072.5,625 M1067.5,575 L1082.5,572.5 L1095,570 M1067.5,602.5 L1085,597.5 L1100,600 L1105,592.5 L1117.5,590 L1130,577.5 M1075,612.5 L1090,610 L1105,605 L1112.5,595 L1117.5,590 M1120,567.5 L1125,575 L1130,577.5 M1000,580 L1012.5,585 L1010,595 L1000,600 M1015,620 L1027.5,610 L1045,600 L1062.5,595 M1025,622.5 L1030,642.5 M1160,592.5 L1172.5,602.5 L1175,615 M1207.5,540 L1220,535 L1230,527.5 M1212.5,550 L1217.5,565 L1215,580 L1217.5,600 M1247.5,560 L1245,575 L1246.2,600 M1250,530 L1252.5,545 L1247.5,560 M1272.5,567.5 L1265,580 L1260,600 L1260,615 M1277.5,575 L1287.5,577.5 L1300,575 M1300,575 L1297.5,590 L1292.5,602.5 L1282.5,605 M1322.5,567.5 L1325,590 L1322.5,605 M1345,567.5 L1345,585 L1335,592.5 M1375,572.5 L1377.5,580 L1375,595 L1385,600 M1357.5,567.5 L1360,585 L1355,600 L1362.5,622.5 M1230,527.5 L1235,512.5 L1225,500 L1227.5,485 L1240,480 M1260,495 L1250,507.5 L1250,530 M1270,505 L1275,520 L1262.5,545 M1300,542.5 L1297.5,525 L1285,507.5 M1307.5,557.5 L1308.8,542.5 M1217.5,477.5 L1225,470 L1240,480 L1252.5,480 M930,585 L935,605 L942.5,625 L950,645 L955,665 L960,677.5 M935,605 L950,602.5 L965,607.5 L975,607.5 L985,597.5 L980,587.5 L970,580 L960,575 M975,607.5 L965,610 L960,625 L955,640 L960,655 L970,662.5 L980,660 L987.5,655 L992.5,642.5 L995,632.5 L987.5,617.5 L980,610 L975,607.5 M987.5,655 L997.5,660 L1007.5,665 L1015,670 M992.5,642.5 L1000,632.5 L1010,625 L1020,625 L1025,635 L1027.5,645 L1020,655 L1015,660 M985,597.5 L990,605 L997.5,617.5 L1007.5,625 M1012.5,575 L1015,587.5 L1007.5,597.5 L990,605 M1020,625 L1025,615 L1040,607.5 L1055,602.5 L1065,610 L1075,617.5 M1055,602.5 L1060,595 L1070,585 L1082.5,575 L1087.5,570 M1075,617.5 L1082.5,610 L1095,605 L1105,597.5 L1112.5,590 L1122.5,592.5 L1130,582.5 L1132.5,565 M1065,610 L1070,600 L1060,595 M1170,590 L1175,602.5 L1172.5,616.2 M1030,582.5 L1040,590 L1050,597.5 L1055,602.5 M1087.5,570 L1100,575 L1112.5,590 M992.5,560 L990,572.5 L1000,585 L1012.5,575 L1025,570 L1040,565 L1052.5,567.5 M1075,382.5 L1090,390 L1100,400 L1107.5,397.5 L1122.5,400 L1135,390 M1122.5,400 L1125,415 L1120,430 L1117.5,447.5 M1135,435 L1145,425 M1100,460 L1110,455 L1117.5,447.5 M1137.5,457.5 L1150,457.5 M1135,490 L1135,505 L1137.5,520 L1135,535 M1075,530 L1090,537.5 L1100,537.5 M1090,537.5 L1087.5,555 L1092.5,560 M1150,390 L1155,405 L1165,425 L1175,435 M1170,390 L1175,405 L1190,405 M1182.5,425 L1190,415 L1200,415 M1075,175 L1087.5,182.5 L1100,180 L1112.5,165 M1087.5,182.5 L1090,200 L1100,210 L1112.5,207.5 L1125,212.5 M1100,180 L1112.5,187.5 L1125,185 L1135,175 M1112.5,207.5 L1117.5,222.5 M1075,235 L1092.5,242.5 L1110,237.5 L1125,245 L1145,235 L1155,225 M1110,237.5 L1105,255 L1115,267.5 L1130,262.5 L1145,267.5 M1092.5,267.5 L1105,255 M1145,235 L1150,250 L1145,267.5 L1152.5,280 M1165,205 L1170,225 L1182.5,237.5 M1125,285 L1122.5,300 L1132.5,310 L1125,312.5" fill="none" stroke="rgba(150,180,240,0.6)" stroke-width="1.3" stroke-linejoin="round" stroke-linecap="round"/>
</g>
</g></g>
</g>
<g id="legend" filter="url(#soft2)">
<rect x="505" y="784" width="158" height="15" fill="#e9efc0"/>
<rect x="663" y="784" width="79" height="15" fill="#b9dcae"/>
<rect x="742" y="784" width="79" height="15" fill="#40b8cc"/>
<rect x="821" y="784" width="106" height="15" fill="#3683c4"/>
<path d="M927 784H1109.500Q1112.500 784 1112.500 787V799H927Z" fill="#3a5592"/>
<g stroke="#1c2733" stroke-width="2">
<line x1="505" y1="785" x2="505" y2="809"/><line x1="663" y1="785" x2="663" y2="809"/><line x1="742" y1="785" x2="742" y2="809"/><line x1="821" y1="785" x2="821" y2="809"/><line x1="927" y1="785" x2="927" y2="809"/><line x1="1111.500" y1="787" x2="1111.500" y2="809"/>
</g>
<g font-family="'Liberation Sans',Arial,sans-serif" font-size="21.500" fill="#20242c" stroke="#20242c" stroke-width="0.45" text-anchor="middle">
<text x="505" y="831.500">2%</text><text x="663" y="831.500">8%</text><text x="742.500" y="831.500">11%</text><text x="822" y="831.500">14%</text><text x="927.500" y="831.500">18%</text><text x="1110.500" y="831.500">25%</text>
</g>
<text x="497.500" y="869.500" font-family="'Liberation Sans',Arial,sans-serif" font-size="21.500" fill="#20242c" stroke="#20242c" stroke-width="0.45" textLength="517.500" lengthAdjust="spacingAndGlyphs">Percentage of population aged 75 years and over</text>
</g>

</svg></body></html>
